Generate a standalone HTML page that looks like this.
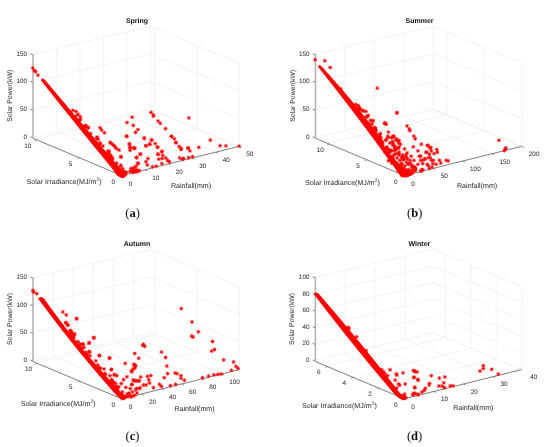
<!DOCTYPE html>
<html><head><meta charset="utf-8"><style>
html,body{margin:0;padding:0;background:#fff;}
svg{display:block;}
text{font-family:"Liberation Sans",Arial,sans-serif;fill:#262626;text-rendering:geometricPrecision;}
.tl text{font-size:6.4px;}
.lab{font-size:7.1px;} .zl{font-size:6.9px;}
.ttl{font-size:7px;font-weight:bold;fill:#111;}
.cap{font-family:"Liberation Serif","Times New Roman",serif;font-size:12.5px;fill:#111;}
</style></head><body>
<svg width="550" height="447" viewBox="0 0 550 447">
<defs><filter id="bl" x="0" y="0" width="1" height="1"><feGaussianBlur stdDeviation="0.4"/></filter></defs>
<rect width="550" height="447" fill="#fff"/>
<g filter="url(#bl)">
<g transform="translate(0,0)">
<path d="M121.8 175.6L239.3 146.3M239.3 146.3L239.3 63.1M79.09 157.29L196.87 128.61M196.87 128.61L196.87 45.41M36.37 138.97L154.45 110.92M154.45 110.92L154.45 27.72M121.8 175.6L32.7 137.4M32.7 137.4L32.7 54.2M145.3 169.74L56.32 131.8M56.32 131.8L56.32 48.6M168.8 163.88L79.94 126.2M79.94 126.2L79.94 43M192.3 158.02L103.56 120.6M103.56 120.6L103.56 37.4M215.8 152.16L127.18 115M127.18 115L127.18 31.8M239.3 146.3L150.8 109.4M150.8 109.4L150.8 26.2M32.7 137.4L150.8 109.4M150.8 109.4L239.3 146.3M32.7 109.67L150.8 81.67M150.8 81.67L239.3 118.57M32.7 81.93L150.8 53.93M150.8 53.93L239.3 90.83M32.7 54.2L150.8 26.2M150.8 26.2L239.3 63.1" stroke="#ececec" stroke-width="0.7" fill="none"/>
<path d="M33 54.2L33 137.4" stroke="#b0b0b0" stroke-width="1.5" fill="none"/>
<path d="M32.7 138.2L121.8 175.6L239.3 146.3M30.3 136.8L32.7 137.8M30.3 109.07L32.7 110.07M30.3 81.33L32.7 82.33M30.3 53.6L32.7 54.6M121.8 175.6l-1.6 1.2M79.09 157.67l-1.6 1.2M36.37 139.74l-1.6 1.2M121.8 175.6l1.9 1.3M145.3 169.74l1.9 1.3M168.8 163.88l1.9 1.3M192.3 158.02l1.9 1.3M215.8 152.16l1.9 1.3M239.3 146.3l1.9 1.3" stroke="#5a5a5a" stroke-width="0.75" fill="none"/>
<polygon points="42.56,78.8 41.1,80 46.51,86.85 51.93,93.69 57.38,100.54 62.84,107.38 68.33,114.23 73.84,121.08 79.37,127.92 84.92,134.77 90.49,141.62 96.08,148.46 101.7,155.31 107.33,162.15 112.99,169 117.4,175.5 122.1,177.8 124.5,177.2 126.8,174.8 127.5,171.5 122.5,169.8 120.52,169 114.6,162.15 108.7,155.31 102.81,148.46 96.93,141.62 91.06,134.77 85.21,127.92 79.37,121.08 73.55,114.23 67.73,107.38 61.93,100.54 56.14,93.69 50.37,86.85 44.61,80" fill="#ff0000" stroke="#ff0000" stroke-width="0.9" stroke-linejoin="round"/>
<path d="M30.7 68.1h4M32.7 66.1v4M31.25 66.65l2.9 2.9M31.25 69.55l2.9 -2.9M32.4 70.7h4M34.4 68.7v4M32.95 69.25l2.9 2.9M32.95 72.15l2.9 -2.9M33.6 71.6h4M35.6 69.6v4M34.15 70.15l2.9 2.9M34.15 73.05l2.9 -2.9M35.9 75.1h4M37.9 73.1v4M36.45 73.65l2.9 2.9M36.45 76.55l2.9 -2.9M74 111.5h4M76 109.5v4M74.55 110.05l2.9 2.9M74.55 112.95l2.9 -2.9M76.2 114.2h4M78.2 112.2v4M76.75 112.75l2.9 2.9M76.75 115.65l2.9 -2.9M78.4 116.9h4M80.4 114.9v4M78.95 115.45l2.9 2.9M78.95 118.35l2.9 -2.9M83.3 125.6h4M85.3 123.6v4M83.85 124.15l2.9 2.9M83.85 127.05l2.9 -2.9M86 127.3h4M88 125.3v4M86.55 125.85l2.9 2.9M86.55 128.75l2.9 -2.9M98 127.8h4M100 125.8v4M98.55 126.35l2.9 2.9M98.55 129.25l2.9 -2.9M99.6 130h4M101.6 128v4M100.15 128.55l2.9 2.9M100.15 131.45l2.9 -2.9M102.4 132.7h4M104.4 130.7v4M102.95 131.25l2.9 2.9M102.95 134.15l2.9 -2.9M95.3 137.1h4M97.3 135.1v4M95.85 135.65l2.9 2.9M95.85 138.55l2.9 -2.9M108.3 142.5h4M110.3 140.5v4M108.85 141.05l2.9 2.9M108.85 143.95l2.9 -2.9M149.1 112.4h4M151.1 110.4v4M149.65 110.95l2.9 2.9M149.65 113.85l2.9 -2.9M151.5 115h4M153.5 113v4M152.05 113.55l2.9 2.9M152.05 116.45l2.9 -2.9M151.3 116.2h4M153.3 114.2v4M151.85 114.75l2.9 2.9M151.85 117.65l2.9 -2.9M130.2 117.2h4M132.2 115.2v4M130.75 115.75l2.9 2.9M130.75 118.65l2.9 -2.9M125 122.6h4M127 120.6v4M125.55 121.15l2.9 2.9M125.55 124.05l2.9 -2.9M156.1 121.1h4M158.1 119.1v4M156.65 119.65l2.9 2.9M156.65 122.55l2.9 -2.9M158.3 123.3h4M160.3 121.3v4M158.85 121.85l2.9 2.9M158.85 124.75l2.9 -2.9M131.3 125.4h4M133.3 123.4v4M131.85 123.95l2.9 2.9M131.85 126.85l2.9 -2.9M135.9 129.6h4M137.9 127.6v4M136.45 128.15l2.9 2.9M136.45 131.05l2.9 -2.9M133.5 132.4h4M135.5 130.4v4M134.05 130.95l2.9 2.9M134.05 133.85l2.9 -2.9M163.5 128.7h4M165.5 126.7v4M164.05 127.25l2.9 2.9M164.05 130.15l2.9 -2.9M124.4 136.2h4M126.4 134.2v4M124.95 134.75l2.9 2.9M124.95 137.65l2.9 -2.9M142.3 138.2h4M144.3 136.2v4M142.85 136.75l2.9 2.9M142.85 139.65l2.9 -2.9M149.5 140.1h4M151.5 138.1v4M150.05 138.65l2.9 2.9M150.05 141.55l2.9 -2.9M94.5 137.8h4M96.5 135.8v4M95.05 136.35l2.9 2.9M95.05 139.25l2.9 -2.9M108.4 142.9h4M110.4 140.9v4M108.95 141.45l2.9 2.9M108.95 144.35l2.9 -2.9M110.6 144.5h4M112.6 142.5v4M111.15 143.05l2.9 2.9M111.15 145.95l2.9 -2.9M112 145.6h4M114 143.6v4M112.55 144.15l2.9 2.9M112.55 147.05l2.9 -2.9M113.1 147h4M115.1 145v4M113.65 145.55l2.9 2.9M113.65 148.45l2.9 -2.9M114.4 148.5h4M116.4 146.5v4M114.95 147.05l2.9 2.9M114.95 149.95l2.9 -2.9M117.1 150.2h4M119.1 148.2v4M117.65 148.75l2.9 2.9M117.65 151.65l2.9 -2.9M127.4 143.8h4M129.4 141.8v4M127.95 142.35l2.9 2.9M127.95 145.25l2.9 -2.9M128 147.4h4M130 145.4v4M128.55 145.95l2.9 2.9M128.55 148.85l2.9 -2.9M131.4 147.8h4M133.4 145.8v4M131.95 146.35l2.9 2.9M131.95 149.25l2.9 -2.9M132.7 148h4M134.7 146v4M133.25 146.55l2.9 2.9M133.25 149.45l2.9 -2.9M144 145.8h4M146 143.8v4M144.55 144.35l2.9 2.9M144.55 147.25l2.9 -2.9M147.7 144h4M149.7 142v4M148.25 142.55l2.9 2.9M148.25 145.45l2.9 -2.9M153.2 143.6h4M155.2 141.6v4M153.75 142.15l2.9 2.9M153.75 145.05l2.9 -2.9M155.6 147.2h4M157.6 145.2v4M156.15 145.75l2.9 2.9M156.15 148.65l2.9 -2.9M160 151.6h4M162 149.6v4M160.55 150.15l2.9 2.9M160.55 153.05l2.9 -2.9M107 151.6h4M109 149.6v4M107.55 150.15l2.9 2.9M107.55 153.05l2.9 -2.9M118.8 156.5h4M120.8 154.5v4M119.35 155.05l2.9 2.9M119.35 157.95l2.9 -2.9M138.2 154.1h4M140.2 152.1v4M138.75 152.65l2.9 2.9M138.75 155.55l2.9 -2.9M134.6 157.8h4M136.6 155.8v4M135.15 156.35l2.9 2.9M135.15 159.25l2.9 -2.9M156.2 154.3h4M158.2 152.3v4M156.75 152.85l2.9 2.9M156.75 155.75l2.9 -2.9M160.7 155.3h4M162.7 153.3v4M161.25 153.85l2.9 2.9M161.25 156.75l2.9 -2.9M186.8 117.9h4M188.8 115.9v4M187.35 116.45l2.9 2.9M187.35 119.35l2.9 -2.9M169.5 136.4h4M171.5 134.4v4M170.05 134.95l2.9 2.9M170.05 137.85l2.9 -2.9M172.3 138.8h4M174.3 136.8v4M172.85 137.35l2.9 2.9M172.85 140.25l2.9 -2.9M174 142.7h4M176 140.7v4M174.55 141.25l2.9 2.9M174.55 144.15l2.9 -2.9M208.3 140.2h4M210.3 138.2v4M208.85 138.75l2.9 2.9M208.85 141.65l2.9 -2.9M218.1 145.7h4M220.1 143.7v4M218.65 144.25l2.9 2.9M218.65 147.15l2.9 -2.9M223.8 145.9h4M225.8 143.9v4M224.35 144.45l2.9 2.9M224.35 147.35l2.9 -2.9M237.2 146.2h4M239.2 144.2v4M237.75 144.75l2.9 2.9M237.75 147.65l2.9 -2.9M196.8 147.4h4M198.8 145.4v4M197.35 145.95l2.9 2.9M197.35 148.85l2.9 -2.9M186.3 147.8h4M188.3 145.8v4M186.85 146.35l2.9 2.9M186.85 149.25l2.9 -2.9M179.3 148.5h4M181.3 146.5v4M179.85 147.05l2.9 2.9M179.85 149.95l2.9 -2.9M124.9 136.3h4M126.9 134.3v4M125.45 134.85l2.9 2.9M125.45 137.75l2.9 -2.9M142.1 138.2h4M144.1 136.2v4M142.65 136.75l2.9 2.9M142.65 139.65l2.9 -2.9M149.7 140.1h4M151.7 138.1v4M150.25 138.65l2.9 2.9M150.25 141.55l2.9 -2.9M169.5 136.5h4M171.5 134.5v4M170.05 135.05l2.9 2.9M170.05 137.95l2.9 -2.9M173.9 142.6h4M175.9 140.6v4M174.45 141.15l2.9 2.9M174.45 144.05l2.9 -2.9M127.5 144.2h4M129.5 142.2v4M128.05 142.75l2.9 2.9M128.05 145.65l2.9 -2.9M144 145.8h4M146 143.8v4M144.55 144.35l2.9 2.9M144.55 147.25l2.9 -2.9M147.8 144.5h4M149.8 142.5v4M148.35 143.05l2.9 2.9M148.35 145.95l2.9 -2.9M155.5 147.1h4M157.5 145.1v4M156.05 145.65l2.9 2.9M156.05 148.55l2.9 -2.9M128.1 147.7h4M130.1 145.7v4M128.65 146.25l2.9 2.9M128.65 149.15l2.9 -2.9M132.5 148.4h4M134.5 146.4v4M133.05 146.95l2.9 2.9M133.05 149.85l2.9 -2.9M128.1 150.3h4M130.1 148.3v4M128.65 148.85l2.9 2.9M128.65 151.75l2.9 -2.9M177.1 146.5h4M179.1 144.5v4M177.65 145.05l2.9 2.9M177.65 147.95l2.9 -2.9M179 149.6h4M181 147.6v4M179.55 148.15l2.9 2.9M179.55 151.05l2.9 -2.9M186 148.4h4M188 146.4v4M186.55 146.95l2.9 2.9M186.55 149.85l2.9 -2.9M187.9 150.9h4M189.9 148.9v4M188.45 149.45l2.9 2.9M188.45 152.35l2.9 -2.9M159.9 151.5h4M161.9 149.5v4M160.45 150.05l2.9 2.9M160.45 152.95l2.9 -2.9M138.3 154.1h4M140.3 152.1v4M138.85 152.65l2.9 2.9M138.85 155.55l2.9 -2.9M155.8 154.1h4M157.8 152.1v4M156.35 152.65l2.9 2.9M156.35 155.55l2.9 -2.9M134.5 157.3h4M136.5 155.3v4M135.05 155.85l2.9 2.9M135.05 158.75l2.9 -2.9M145.9 158.5h4M147.9 156.5v4M146.45 157.05l2.9 2.9M146.45 159.95l2.9 -2.9M156.7 159.2h4M158.7 157.2v4M157.25 157.75l2.9 2.9M157.25 160.65l2.9 -2.9M160.2 158.5h4M162.2 156.5v4M160.75 157.05l2.9 2.9M160.75 159.95l2.9 -2.9M163.7 157.9h4M165.7 155.9v4M164.25 156.45l2.9 2.9M164.25 159.35l2.9 -2.9M165.6 160.5h4M167.6 158.5v4M166.15 159.05l2.9 2.9M166.15 161.95l2.9 -2.9M167.5 161.7h4M169.5 159.7v4M168.05 160.25l2.9 2.9M168.05 163.15l2.9 -2.9M177.7 157.9h4M179.7 155.9v4M178.25 156.45l2.9 2.9M178.25 159.35l2.9 -2.9M180.3 159.2h4M182.3 157.2v4M180.85 157.75l2.9 2.9M180.85 160.65l2.9 -2.9M181.5 158.5h4M183.5 156.5v4M182.05 157.05l2.9 2.9M182.05 159.95l2.9 -2.9M186.6 157.7h4M188.6 155.7v4M187.15 156.25l2.9 2.9M187.15 159.15l2.9 -2.9M190.5 156.6h4M192.5 154.6v4M191.05 155.15l2.9 2.9M191.05 158.05l2.9 -2.9M144 161.7h4M146 159.7v4M144.55 160.25l2.9 2.9M144.55 163.15l2.9 -2.9M135.7 163h4M137.7 161v4M136.25 161.55l2.9 2.9M136.25 164.45l2.9 -2.9M145.3 164.9h4M147.3 162.9v4M145.85 163.45l2.9 2.9M145.85 166.35l2.9 -2.9M159.9 163.6h4M161.9 161.6v4M160.45 162.15l2.9 2.9M160.45 165.05l2.9 -2.9M150.4 166.8h4M152.4 164.8v4M150.95 165.35l2.9 2.9M150.95 168.25l2.9 -2.9M154.2 166.2h4M156.2 164.2v4M154.75 164.75l2.9 2.9M154.75 167.65l2.9 -2.9M131.9 167.5h4M133.9 165.5v4M132.45 166.05l2.9 2.9M132.45 168.95l2.9 -2.9M130.6 170h4M132.6 168v4M131.15 168.55l2.9 2.9M131.15 171.45l2.9 -2.9M133.8 170.6h4M135.8 168.6v4M134.35 169.15l2.9 2.9M134.35 172.05l2.9 -2.9M135.7 171.3h4M137.7 169.3v4M136.25 169.85l2.9 2.9M136.25 172.75l2.9 -2.9M128 171.5h4M130 169.5v4M128.55 170.05l2.9 2.9M128.55 172.95l2.9 -2.9M131 172.5h4M133 170.5v4M131.55 171.05l2.9 2.9M131.55 173.95l2.9 -2.9M134 172h4M136 170v4M134.55 170.55l2.9 2.9M134.55 173.45l2.9 -2.9M129 168.5h4M131 166.5v4M129.55 167.05l2.9 2.9M129.55 169.95l2.9 -2.9M109.1 156.1h4M111.1 154.1v4M109.65 154.65l2.9 2.9M109.65 157.55l2.9 -2.9M114.6 163.1h4M116.6 161.1v4M115.15 161.65l2.9 2.9M115.15 164.55l2.9 -2.9M119.2 157.1h4M121.2 155.1v4M119.75 155.65l2.9 2.9M119.75 158.55l2.9 -2.9M136.3 163.6h4M138.3 161.6v4M136.85 162.15l2.9 2.9M136.85 165.05l2.9 -2.9M134.2 166.2h4M136.2 164.2v4M134.75 164.75l2.9 2.9M134.75 167.65l2.9 -2.9M130.2 169.2h4M132.2 167.2v4M130.75 167.75l2.9 2.9M130.75 170.65l2.9 -2.9M133.2 169.7h4M135.2 167.7v4M133.75 168.25l2.9 2.9M133.75 171.15l2.9 -2.9M135.3 170.2h4M137.3 168.2v4M135.85 168.75l2.9 2.9M135.85 171.65l2.9 -2.9M132.7 171.2h4M134.7 169.2v4M133.25 169.75l2.9 2.9M133.25 172.65l2.9 -2.9M137.3 170.7h4M139.3 168.7v4M137.85 169.25l2.9 2.9M137.85 172.15l2.9 -2.9M97.7 143.3h4M99.7 141.3v4M98.25 141.85l2.9 2.9M98.25 144.75l2.9 -2.9M98.2 143.3h4M100.2 141.3v4M98.75 141.85l2.9 2.9M98.75 144.75l2.9 -2.9M83.8 126.7h4M85.8 124.7v4M84.35 125.25l2.9 2.9M84.35 128.15l2.9 -2.9M110.7 158.6h4M112.7 156.6v4M111.25 157.15l2.9 2.9M111.25 160.05l2.9 -2.9M78.5 119.6h4M80.5 117.6v4M79.05 118.15l2.9 2.9M79.05 121.05l2.9 -2.9M74.9 115.4h4M76.9 113.4v4M75.45 113.95l2.9 2.9M75.45 116.85l2.9 -2.9M106.5 151.9h4M108.5 149.9v4M107.05 150.45l2.9 2.9M107.05 153.35l2.9 -2.9M70.9 110.3h4M72.9 108.3v4M71.45 108.85l2.9 2.9M71.45 111.75l2.9 -2.9M83.5 125.8h4M85.5 123.8v4M84.05 124.35l2.9 2.9M84.05 127.25l2.9 -2.9M97.9 143.7h4M99.9 141.7v4M98.45 142.25l2.9 2.9M98.45 145.15l2.9 -2.9M100.9 145.9h4M102.9 143.9v4M101.45 144.45l2.9 2.9M101.45 147.35l2.9 -2.9M106.5 152.5h4M108.5 150.5v4M107.05 151.05l2.9 2.9M107.05 153.95l2.9 -2.9M120.8 168.6h4M122.8 166.6v4M121.35 167.15l2.9 2.9M121.35 170.05l2.9 -2.9M107.9 154.6h4M109.9 152.6v4M108.45 153.15l2.9 2.9M108.45 156.05l2.9 -2.9M88.5 133.7h4M90.5 131.7v4M89.05 132.25l2.9 2.9M89.05 135.15l2.9 -2.9M96 139.4h4M98 137.4v4M96.55 137.95l2.9 2.9M96.55 140.85l2.9 -2.9M118.9 165.2h4M120.9 163.2v4M119.45 163.75l2.9 2.9M119.45 166.65l2.9 -2.9M86.3 128h4M88.3 126v4M86.85 126.55l2.9 2.9M86.85 129.45l2.9 -2.9M118.6 166.3h4M120.6 164.3v4M119.15 164.85l2.9 2.9M119.15 167.75l2.9 -2.9M106 150.9h4M108 148.9v4M106.55 149.45l2.9 2.9M106.55 152.35l2.9 -2.9M77 119.8h4M79 117.8v4M77.55 118.35l2.9 2.9M77.55 121.25l2.9 -2.9M109.4 156.9h4M111.4 154.9v4M109.95 155.45l2.9 2.9M109.95 158.35l2.9 -2.9M77.3 120.7h4M79.3 118.7v4M77.85 119.25l2.9 2.9M77.85 122.15l2.9 -2.9M83.5 125.8h4M85.5 123.8v4M84.05 124.35l2.9 2.9M84.05 127.25l2.9 -2.9" stroke="#ff0000" stroke-width="0.8" fill="none"/>
<path d="M31.8 68.1a0.9 0.9 0 1 0 1.8 0a0.9 0.9 0 1 0 -1.8 0M33.5 70.7a0.9 0.9 0 1 0 1.8 0a0.9 0.9 0 1 0 -1.8 0M34.7 71.6a0.9 0.9 0 1 0 1.8 0a0.9 0.9 0 1 0 -1.8 0M37 75.1a0.9 0.9 0 1 0 1.8 0a0.9 0.9 0 1 0 -1.8 0M75.1 111.5a0.9 0.9 0 1 0 1.8 0a0.9 0.9 0 1 0 -1.8 0M77.3 114.2a0.9 0.9 0 1 0 1.8 0a0.9 0.9 0 1 0 -1.8 0M79.5 116.9a0.9 0.9 0 1 0 1.8 0a0.9 0.9 0 1 0 -1.8 0M84.4 125.6a0.9 0.9 0 1 0 1.8 0a0.9 0.9 0 1 0 -1.8 0M87.1 127.3a0.9 0.9 0 1 0 1.8 0a0.9 0.9 0 1 0 -1.8 0M99.1 127.8a0.9 0.9 0 1 0 1.8 0a0.9 0.9 0 1 0 -1.8 0M100.7 130a0.9 0.9 0 1 0 1.8 0a0.9 0.9 0 1 0 -1.8 0M103.5 132.7a0.9 0.9 0 1 0 1.8 0a0.9 0.9 0 1 0 -1.8 0M96.4 137.1a0.9 0.9 0 1 0 1.8 0a0.9 0.9 0 1 0 -1.8 0M109.4 142.5a0.9 0.9 0 1 0 1.8 0a0.9 0.9 0 1 0 -1.8 0M150.2 112.4a0.9 0.9 0 1 0 1.8 0a0.9 0.9 0 1 0 -1.8 0M152.6 115a0.9 0.9 0 1 0 1.8 0a0.9 0.9 0 1 0 -1.8 0M152.4 116.2a0.9 0.9 0 1 0 1.8 0a0.9 0.9 0 1 0 -1.8 0M131.3 117.2a0.9 0.9 0 1 0 1.8 0a0.9 0.9 0 1 0 -1.8 0M126.1 122.6a0.9 0.9 0 1 0 1.8 0a0.9 0.9 0 1 0 -1.8 0M157.2 121.1a0.9 0.9 0 1 0 1.8 0a0.9 0.9 0 1 0 -1.8 0M159.4 123.3a0.9 0.9 0 1 0 1.8 0a0.9 0.9 0 1 0 -1.8 0M132.4 125.4a0.9 0.9 0 1 0 1.8 0a0.9 0.9 0 1 0 -1.8 0M137 129.6a0.9 0.9 0 1 0 1.8 0a0.9 0.9 0 1 0 -1.8 0M134.6 132.4a0.9 0.9 0 1 0 1.8 0a0.9 0.9 0 1 0 -1.8 0M164.6 128.7a0.9 0.9 0 1 0 1.8 0a0.9 0.9 0 1 0 -1.8 0M125.5 136.2a0.9 0.9 0 1 0 1.8 0a0.9 0.9 0 1 0 -1.8 0M143.4 138.2a0.9 0.9 0 1 0 1.8 0a0.9 0.9 0 1 0 -1.8 0M150.6 140.1a0.9 0.9 0 1 0 1.8 0a0.9 0.9 0 1 0 -1.8 0M95.6 137.8a0.9 0.9 0 1 0 1.8 0a0.9 0.9 0 1 0 -1.8 0M109.5 142.9a0.9 0.9 0 1 0 1.8 0a0.9 0.9 0 1 0 -1.8 0M111.7 144.5a0.9 0.9 0 1 0 1.8 0a0.9 0.9 0 1 0 -1.8 0M113.1 145.6a0.9 0.9 0 1 0 1.8 0a0.9 0.9 0 1 0 -1.8 0M114.2 147a0.9 0.9 0 1 0 1.8 0a0.9 0.9 0 1 0 -1.8 0M115.5 148.5a0.9 0.9 0 1 0 1.8 0a0.9 0.9 0 1 0 -1.8 0M118.2 150.2a0.9 0.9 0 1 0 1.8 0a0.9 0.9 0 1 0 -1.8 0M128.5 143.8a0.9 0.9 0 1 0 1.8 0a0.9 0.9 0 1 0 -1.8 0M129.1 147.4a0.9 0.9 0 1 0 1.8 0a0.9 0.9 0 1 0 -1.8 0M132.5 147.8a0.9 0.9 0 1 0 1.8 0a0.9 0.9 0 1 0 -1.8 0M133.8 148a0.9 0.9 0 1 0 1.8 0a0.9 0.9 0 1 0 -1.8 0M145.1 145.8a0.9 0.9 0 1 0 1.8 0a0.9 0.9 0 1 0 -1.8 0M148.8 144a0.9 0.9 0 1 0 1.8 0a0.9 0.9 0 1 0 -1.8 0M154.3 143.6a0.9 0.9 0 1 0 1.8 0a0.9 0.9 0 1 0 -1.8 0M156.7 147.2a0.9 0.9 0 1 0 1.8 0a0.9 0.9 0 1 0 -1.8 0M161.1 151.6a0.9 0.9 0 1 0 1.8 0a0.9 0.9 0 1 0 -1.8 0M108.1 151.6a0.9 0.9 0 1 0 1.8 0a0.9 0.9 0 1 0 -1.8 0M119.9 156.5a0.9 0.9 0 1 0 1.8 0a0.9 0.9 0 1 0 -1.8 0M139.3 154.1a0.9 0.9 0 1 0 1.8 0a0.9 0.9 0 1 0 -1.8 0M135.7 157.8a0.9 0.9 0 1 0 1.8 0a0.9 0.9 0 1 0 -1.8 0M157.3 154.3a0.9 0.9 0 1 0 1.8 0a0.9 0.9 0 1 0 -1.8 0M161.8 155.3a0.9 0.9 0 1 0 1.8 0a0.9 0.9 0 1 0 -1.8 0M187.9 117.9a0.9 0.9 0 1 0 1.8 0a0.9 0.9 0 1 0 -1.8 0M170.6 136.4a0.9 0.9 0 1 0 1.8 0a0.9 0.9 0 1 0 -1.8 0M173.4 138.8a0.9 0.9 0 1 0 1.8 0a0.9 0.9 0 1 0 -1.8 0M175.1 142.7a0.9 0.9 0 1 0 1.8 0a0.9 0.9 0 1 0 -1.8 0M209.4 140.2a0.9 0.9 0 1 0 1.8 0a0.9 0.9 0 1 0 -1.8 0M219.2 145.7a0.9 0.9 0 1 0 1.8 0a0.9 0.9 0 1 0 -1.8 0M224.9 145.9a0.9 0.9 0 1 0 1.8 0a0.9 0.9 0 1 0 -1.8 0M238.3 146.2a0.9 0.9 0 1 0 1.8 0a0.9 0.9 0 1 0 -1.8 0M197.9 147.4a0.9 0.9 0 1 0 1.8 0a0.9 0.9 0 1 0 -1.8 0M187.4 147.8a0.9 0.9 0 1 0 1.8 0a0.9 0.9 0 1 0 -1.8 0M180.4 148.5a0.9 0.9 0 1 0 1.8 0a0.9 0.9 0 1 0 -1.8 0M126 136.3a0.9 0.9 0 1 0 1.8 0a0.9 0.9 0 1 0 -1.8 0M143.2 138.2a0.9 0.9 0 1 0 1.8 0a0.9 0.9 0 1 0 -1.8 0M150.8 140.1a0.9 0.9 0 1 0 1.8 0a0.9 0.9 0 1 0 -1.8 0M170.6 136.5a0.9 0.9 0 1 0 1.8 0a0.9 0.9 0 1 0 -1.8 0M175 142.6a0.9 0.9 0 1 0 1.8 0a0.9 0.9 0 1 0 -1.8 0M128.6 144.2a0.9 0.9 0 1 0 1.8 0a0.9 0.9 0 1 0 -1.8 0M145.1 145.8a0.9 0.9 0 1 0 1.8 0a0.9 0.9 0 1 0 -1.8 0M148.9 144.5a0.9 0.9 0 1 0 1.8 0a0.9 0.9 0 1 0 -1.8 0M156.6 147.1a0.9 0.9 0 1 0 1.8 0a0.9 0.9 0 1 0 -1.8 0M129.2 147.7a0.9 0.9 0 1 0 1.8 0a0.9 0.9 0 1 0 -1.8 0M133.6 148.4a0.9 0.9 0 1 0 1.8 0a0.9 0.9 0 1 0 -1.8 0M129.2 150.3a0.9 0.9 0 1 0 1.8 0a0.9 0.9 0 1 0 -1.8 0M178.2 146.5a0.9 0.9 0 1 0 1.8 0a0.9 0.9 0 1 0 -1.8 0M180.1 149.6a0.9 0.9 0 1 0 1.8 0a0.9 0.9 0 1 0 -1.8 0M187.1 148.4a0.9 0.9 0 1 0 1.8 0a0.9 0.9 0 1 0 -1.8 0M189 150.9a0.9 0.9 0 1 0 1.8 0a0.9 0.9 0 1 0 -1.8 0M161 151.5a0.9 0.9 0 1 0 1.8 0a0.9 0.9 0 1 0 -1.8 0M139.4 154.1a0.9 0.9 0 1 0 1.8 0a0.9 0.9 0 1 0 -1.8 0M156.9 154.1a0.9 0.9 0 1 0 1.8 0a0.9 0.9 0 1 0 -1.8 0M135.6 157.3a0.9 0.9 0 1 0 1.8 0a0.9 0.9 0 1 0 -1.8 0M147 158.5a0.9 0.9 0 1 0 1.8 0a0.9 0.9 0 1 0 -1.8 0M157.8 159.2a0.9 0.9 0 1 0 1.8 0a0.9 0.9 0 1 0 -1.8 0M161.3 158.5a0.9 0.9 0 1 0 1.8 0a0.9 0.9 0 1 0 -1.8 0M164.8 157.9a0.9 0.9 0 1 0 1.8 0a0.9 0.9 0 1 0 -1.8 0M166.7 160.5a0.9 0.9 0 1 0 1.8 0a0.9 0.9 0 1 0 -1.8 0M168.6 161.7a0.9 0.9 0 1 0 1.8 0a0.9 0.9 0 1 0 -1.8 0M178.8 157.9a0.9 0.9 0 1 0 1.8 0a0.9 0.9 0 1 0 -1.8 0M181.4 159.2a0.9 0.9 0 1 0 1.8 0a0.9 0.9 0 1 0 -1.8 0M182.6 158.5a0.9 0.9 0 1 0 1.8 0a0.9 0.9 0 1 0 -1.8 0M187.7 157.7a0.9 0.9 0 1 0 1.8 0a0.9 0.9 0 1 0 -1.8 0M191.6 156.6a0.9 0.9 0 1 0 1.8 0a0.9 0.9 0 1 0 -1.8 0M145.1 161.7a0.9 0.9 0 1 0 1.8 0a0.9 0.9 0 1 0 -1.8 0M136.8 163a0.9 0.9 0 1 0 1.8 0a0.9 0.9 0 1 0 -1.8 0M146.4 164.9a0.9 0.9 0 1 0 1.8 0a0.9 0.9 0 1 0 -1.8 0M161 163.6a0.9 0.9 0 1 0 1.8 0a0.9 0.9 0 1 0 -1.8 0M151.5 166.8a0.9 0.9 0 1 0 1.8 0a0.9 0.9 0 1 0 -1.8 0M155.3 166.2a0.9 0.9 0 1 0 1.8 0a0.9 0.9 0 1 0 -1.8 0M133 167.5a0.9 0.9 0 1 0 1.8 0a0.9 0.9 0 1 0 -1.8 0M131.7 170a0.9 0.9 0 1 0 1.8 0a0.9 0.9 0 1 0 -1.8 0M134.9 170.6a0.9 0.9 0 1 0 1.8 0a0.9 0.9 0 1 0 -1.8 0M136.8 171.3a0.9 0.9 0 1 0 1.8 0a0.9 0.9 0 1 0 -1.8 0M129.1 171.5a0.9 0.9 0 1 0 1.8 0a0.9 0.9 0 1 0 -1.8 0M132.1 172.5a0.9 0.9 0 1 0 1.8 0a0.9 0.9 0 1 0 -1.8 0M135.1 172a0.9 0.9 0 1 0 1.8 0a0.9 0.9 0 1 0 -1.8 0M130.1 168.5a0.9 0.9 0 1 0 1.8 0a0.9 0.9 0 1 0 -1.8 0M110.2 156.1a0.9 0.9 0 1 0 1.8 0a0.9 0.9 0 1 0 -1.8 0M115.7 163.1a0.9 0.9 0 1 0 1.8 0a0.9 0.9 0 1 0 -1.8 0M120.3 157.1a0.9 0.9 0 1 0 1.8 0a0.9 0.9 0 1 0 -1.8 0M137.4 163.6a0.9 0.9 0 1 0 1.8 0a0.9 0.9 0 1 0 -1.8 0M135.3 166.2a0.9 0.9 0 1 0 1.8 0a0.9 0.9 0 1 0 -1.8 0M131.3 169.2a0.9 0.9 0 1 0 1.8 0a0.9 0.9 0 1 0 -1.8 0M134.3 169.7a0.9 0.9 0 1 0 1.8 0a0.9 0.9 0 1 0 -1.8 0M136.4 170.2a0.9 0.9 0 1 0 1.8 0a0.9 0.9 0 1 0 -1.8 0M133.8 171.2a0.9 0.9 0 1 0 1.8 0a0.9 0.9 0 1 0 -1.8 0M138.4 170.7a0.9 0.9 0 1 0 1.8 0a0.9 0.9 0 1 0 -1.8 0M98.8 143.3a0.9 0.9 0 1 0 1.8 0a0.9 0.9 0 1 0 -1.8 0M99.3 143.3a0.9 0.9 0 1 0 1.8 0a0.9 0.9 0 1 0 -1.8 0M84.9 126.7a0.9 0.9 0 1 0 1.8 0a0.9 0.9 0 1 0 -1.8 0M111.8 158.6a0.9 0.9 0 1 0 1.8 0a0.9 0.9 0 1 0 -1.8 0M79.6 119.6a0.9 0.9 0 1 0 1.8 0a0.9 0.9 0 1 0 -1.8 0M76 115.4a0.9 0.9 0 1 0 1.8 0a0.9 0.9 0 1 0 -1.8 0M107.6 151.9a0.9 0.9 0 1 0 1.8 0a0.9 0.9 0 1 0 -1.8 0M72 110.3a0.9 0.9 0 1 0 1.8 0a0.9 0.9 0 1 0 -1.8 0M84.6 125.8a0.9 0.9 0 1 0 1.8 0a0.9 0.9 0 1 0 -1.8 0M99 143.7a0.9 0.9 0 1 0 1.8 0a0.9 0.9 0 1 0 -1.8 0M102 145.9a0.9 0.9 0 1 0 1.8 0a0.9 0.9 0 1 0 -1.8 0M107.6 152.5a0.9 0.9 0 1 0 1.8 0a0.9 0.9 0 1 0 -1.8 0M121.9 168.6a0.9 0.9 0 1 0 1.8 0a0.9 0.9 0 1 0 -1.8 0M109 154.6a0.9 0.9 0 1 0 1.8 0a0.9 0.9 0 1 0 -1.8 0M89.6 133.7a0.9 0.9 0 1 0 1.8 0a0.9 0.9 0 1 0 -1.8 0M97.1 139.4a0.9 0.9 0 1 0 1.8 0a0.9 0.9 0 1 0 -1.8 0M120 165.2a0.9 0.9 0 1 0 1.8 0a0.9 0.9 0 1 0 -1.8 0M87.4 128a0.9 0.9 0 1 0 1.8 0a0.9 0.9 0 1 0 -1.8 0M119.7 166.3a0.9 0.9 0 1 0 1.8 0a0.9 0.9 0 1 0 -1.8 0M107.1 150.9a0.9 0.9 0 1 0 1.8 0a0.9 0.9 0 1 0 -1.8 0M78.1 119.8a0.9 0.9 0 1 0 1.8 0a0.9 0.9 0 1 0 -1.8 0M110.5 156.9a0.9 0.9 0 1 0 1.8 0a0.9 0.9 0 1 0 -1.8 0M78.4 120.7a0.9 0.9 0 1 0 1.8 0a0.9 0.9 0 1 0 -1.8 0M84.6 125.8a0.9 0.9 0 1 0 1.8 0a0.9 0.9 0 1 0 -1.8 0" fill="#ff0000"/>
<g class="tl"><text x="27.1" y="138.9" text-anchor="end">0</text><text x="27.1" y="111.17" text-anchor="end">50</text><text x="27.1" y="83.43" text-anchor="end">100</text><text x="27.1" y="55.7" text-anchor="end">150</text><text x="113.3" y="183.6" text-anchor="middle">0</text><text x="70.59" y="165.67" text-anchor="middle">5</text><text x="27.87" y="147.74" text-anchor="middle">10</text><text x="128.8" y="185.5">0</text><text x="152.3" y="179.64">10</text><text x="175.8" y="173.78">20</text><text x="199.3" y="167.92">30</text><text x="222.8" y="162.06">40</text><text x="246.3" y="156.2">50</text></g>
<text class="lab" x="26.6" y="184.1">Solar Irradiance(MJ/m<tspan dy="-3" font-size="5">2</tspan><tspan dy="3">)</tspan></text>
<text class="lab" x="170.9" y="188.0">Rainfall(mm)</text>
<text class="lab zl" transform="translate(12.0,95.7) rotate(-90)" text-anchor="middle">Solar Power(kW)</text>
<text class="ttl" x="137.0" y="23.2" text-anchor="middle">Spring</text>
<text class="cap" x="132.6" y="216.7" text-anchor="middle">(<tspan font-weight="bold">a</tspan>)</text>
</g>
<g transform="translate(282.5,0)">
<path d="M121.8 175.6L239.3 146.3M239.3 146.3L239.3 63.1M84.05 159.41L201.8 130.66M201.8 130.66L201.8 47.46M46.29 143.23L164.3 115.03M164.3 115.03L164.3 31.83M121.8 175.6L32.7 137.4M32.7 137.4L32.7 54.2M151.18 168.27L62.23 130.4M62.23 130.4L62.23 47.2M180.55 160.95L91.75 123.4M91.75 123.4L91.75 40.2M209.93 153.62L121.28 116.4M121.28 116.4L121.28 33.2M239.3 146.3L150.8 109.4M150.8 109.4L150.8 26.2M32.7 137.4L150.8 109.4M150.8 109.4L239.3 146.3M32.7 109.67L150.8 81.67M150.8 81.67L239.3 118.57M32.7 81.93L150.8 53.93M150.8 53.93L239.3 90.83M32.7 54.2L150.8 26.2M150.8 26.2L239.3 63.1" stroke="#ececec" stroke-width="0.7" fill="none"/>
<path d="M33 54.2L33 137.4" stroke="#b0b0b0" stroke-width="1.5" fill="none"/>
<path d="M32.7 138.2L121.8 175.6L239.3 146.3M30.3 136.8L32.7 137.8M30.3 109.07L32.7 110.07M30.3 81.33L32.7 82.33M30.3 53.6L32.7 54.6M121.8 175.6l-1.6 1.2M84.05 159.75l-1.6 1.2M46.29 143.91l-1.6 1.2M121.8 175.6l1.9 1.3M151.18 168.27l1.9 1.3M180.55 160.95l1.9 1.3M209.93 153.62l1.9 1.3M239.3 146.3l1.9 1.3" stroke="#5a5a5a" stroke-width="0.75" fill="none"/>
<polygon points="37.23,65.4 35.72,66.5 41.49,73.77 47.22,81.03 52.91,88.3 58.56,95.57 64.17,102.83 69.74,110.1 75.28,117.37 80.77,124.63 86.22,131.9 91.63,139.17 97.01,146.43 102.34,153.7 107.64,160.97 112.89,168.23 118.11,175.5 119.7,176.8 124.5,176.8 129.5,175 131.5,173 122.5,168 114.5,162.2 107.5,155 101.5,148 101.16,142 96,135.14 90.74,128.27 85.37,121.41 79.9,114.55 74.33,107.68 68.66,100.82 62.88,93.95 57,87.09 51.02,80.23 44.93,73.36 38.74,66.5" fill="#ff0000" stroke="#ff0000" stroke-width="0.9" stroke-linejoin="round"/>
<path d="M30.6 59.7h4M32.6 57.7v4M31.15 58.25l2.9 2.9M31.15 61.15l2.9 -2.9M40.3 60.7h4M42.3 58.7v4M40.85 59.25l2.9 2.9M40.85 62.15l2.9 -2.9M45.7 67.5h4M47.7 65.5v4M46.25 66.05l2.9 2.9M46.25 68.95l2.9 -2.9M56.3 88.8h4M58.3 86.8v4M56.85 87.35l2.9 2.9M56.85 90.25l2.9 -2.9M78.7 110.9h4M80.7 108.9v4M79.25 109.45l2.9 2.9M79.25 112.35l2.9 -2.9M81.4 111.4h4M83.4 109.4v4M81.95 109.95l2.9 2.9M81.95 112.85l2.9 -2.9M78.3 110.7h4M80.3 108.7v4M78.85 109.25l2.9 2.9M78.85 112.15l2.9 -2.9M83.7 115.4h4M85.7 113.4v4M84.25 113.95l2.9 2.9M84.25 116.85l2.9 -2.9M112.5 112.8h4M114.5 110.8v4M113.05 111.35l2.9 2.9M113.05 114.25l2.9 -2.9M88.4 120.8h4M90.4 118.8v4M88.95 119.35l2.9 2.9M88.95 122.25l2.9 -2.9M84.4 123.5h4M86.4 121.5v4M84.95 122.05l2.9 2.9M84.95 124.95l2.9 -2.9M100.5 123.5h4M102.5 121.5v4M101.05 122.05l2.9 2.9M101.05 124.95l2.9 -2.9M101.8 124.2h4M103.8 122.2v4M102.35 122.75l2.9 2.9M102.35 125.65l2.9 -2.9M95.8 133.6h4M97.8 131.6v4M96.35 132.15l2.9 2.9M96.35 135.05l2.9 -2.9M103.2 136.2h4M105.2 134.2v4M103.75 134.75l2.9 2.9M103.75 137.65l2.9 -2.9M108.5 136.2h4M110.5 134.2v4M109.05 134.75l2.9 2.9M109.05 137.65l2.9 -2.9M111.9 138.9h4M113.9 136.9v4M112.45 137.45l2.9 2.9M112.45 140.35l2.9 -2.9M101.1 140.3h4M103.1 138.3v4M101.65 138.85l2.9 2.9M101.65 141.75l2.9 -2.9M105.2 143h4M107.2 141v4M105.75 141.55l2.9 2.9M105.75 144.45l2.9 -2.9M109.2 144.3h4M111.2 142.3v4M109.75 142.85l2.9 2.9M109.75 145.75l2.9 -2.9M113.9 143h4M115.9 141v4M114.45 141.55l2.9 2.9M114.45 144.45l2.9 -2.9M102.5 147h4M104.5 145v4M103.05 145.55l2.9 2.9M103.05 148.45l2.9 -2.9M106.5 150.3h4M108.5 148.3v4M107.05 148.85l2.9 2.9M107.05 151.75l2.9 -2.9M110.5 148.3h4M112.5 146.3v4M111.05 146.85l2.9 2.9M111.05 149.75l2.9 -2.9M113.2 153.7h4M115.2 151.7v4M113.75 152.25l2.9 2.9M113.75 155.15l2.9 -2.9M114.5 147h4M116.5 145v4M115.05 145.55l2.9 2.9M115.05 148.45l2.9 -2.9M92.8 88.2h4M94.8 86.2v4M93.35 86.75l2.9 2.9M93.35 89.65l2.9 -2.9M112.4 112.9h4M114.4 110.9v4M112.95 111.45l2.9 2.9M112.95 114.35l2.9 -2.9M88.4 120.9h4M90.4 118.9v4M88.95 119.45l2.9 2.9M88.95 122.35l2.9 -2.9M100 123.1h4M102 121.1v4M100.55 121.65l2.9 2.9M100.55 124.55l2.9 -2.9M122.6 126h4M124.6 124v4M123.15 124.55l2.9 2.9M123.15 127.45l2.9 -2.9M124.8 128.9h4M126.8 126.9v4M125.35 127.45l2.9 2.9M125.35 130.35l2.9 -2.9M90.6 128.2h4M92.6 126.2v4M91.15 126.75l2.9 2.9M91.15 129.65l2.9 -2.9M100.6 123.4h4M102.6 121.4v4M101.15 121.95l2.9 2.9M101.15 124.85l2.9 -2.9M125.4 130.7h4M127.4 128.7v4M125.95 129.25l2.9 2.9M125.95 132.15l2.9 -2.9M129.4 136.1h4M131.4 134.1v4M129.95 134.65l2.9 2.9M129.95 137.55l2.9 -2.9M130.8 138.8h4M132.8 136.8v4M131.35 137.35l2.9 2.9M131.35 140.25l2.9 -2.9M136.8 144.2h4M138.8 142.2v4M137.35 142.75l2.9 2.9M137.35 145.65l2.9 -2.9M143.5 145.5h4M145.5 143.5v4M144.05 144.05l2.9 2.9M144.05 146.95l2.9 -2.9M145.5 148.2h4M147.5 146.2v4M146.05 146.75l2.9 2.9M146.05 149.65l2.9 -2.9M128.8 146.8h4M130.8 144.8v4M129.35 145.35l2.9 2.9M129.35 148.25l2.9 -2.9M133.5 150.9h4M135.5 148.9v4M134.05 149.45l2.9 2.9M134.05 152.35l2.9 -2.9M141.5 152.2h4M143.5 150.2v4M142.05 150.75l2.9 2.9M142.05 153.65l2.9 -2.9M146.9 150.9h4M148.9 148.9v4M147.45 149.45l2.9 2.9M147.45 152.35l2.9 -2.9M122.7 152.9h4M124.7 150.9v4M123.25 151.45l2.9 2.9M123.25 154.35l2.9 -2.9M126.7 156.2h4M128.7 154.2v4M127.25 154.75l2.9 2.9M127.25 157.65l2.9 -2.9M134.8 156.2h4M136.8 154.2v4M135.35 154.75l2.9 2.9M135.35 157.65l2.9 -2.9M129.4 160.3h4M131.4 158.3v4M129.95 158.85l2.9 2.9M129.95 161.75l2.9 -2.9M136.1 160.3h4M138.1 158.3v4M136.65 158.85l2.9 2.9M136.65 161.75l2.9 -2.9M140.2 158.9h4M142.2 156.9v4M140.75 157.45l2.9 2.9M140.75 160.35l2.9 -2.9M144.2 157.6h4M146.2 155.6v4M144.75 156.15l2.9 2.9M144.75 159.05l2.9 -2.9M146.9 160.3h4M148.9 158.3v4M147.45 158.85l2.9 2.9M147.45 161.75l2.9 -2.9M133.4 164.3h4M135.4 162.3v4M133.95 162.85l2.9 2.9M133.95 165.75l2.9 -2.9M138.2 163.6h4M140.2 161.6v4M138.75 162.15l2.9 2.9M138.75 165.05l2.9 -2.9M142.8 164.3h4M144.8 162.3v4M143.35 162.85l2.9 2.9M143.35 165.75l2.9 -2.9M137.5 169.7h4M139.5 167.7v4M138.05 168.25l2.9 2.9M138.05 171.15l2.9 -2.9M130.8 168.3h4M132.8 166.3v4M131.35 166.85l2.9 2.9M131.35 169.75l2.9 -2.9M124.1 164.3h4M126.1 162.3v4M124.65 162.85l2.9 2.9M124.65 165.75l2.9 -2.9M117.3 157.6h4M119.3 155.6v4M117.85 156.15l2.9 2.9M117.85 159.05l2.9 -2.9M114.7 152.2h4M116.7 150.2v4M115.25 150.75l2.9 2.9M115.25 153.65l2.9 -2.9M110.6 146.8h4M112.6 144.8v4M111.15 145.35l2.9 2.9M111.15 148.25l2.9 -2.9M107.9 141.5h4M109.9 139.5v4M108.45 140.05l2.9 2.9M108.45 142.95l2.9 -2.9M103.9 137.4h4M105.9 135.4v4M104.45 135.95l2.9 2.9M104.45 138.85l2.9 -2.9M103.9 132.1h4M105.9 130.1v4M104.45 130.65l2.9 2.9M104.45 133.55l2.9 -2.9M109.3 136.1h4M111.3 134.1v4M109.85 134.65l2.9 2.9M109.85 137.55l2.9 -2.9M113.3 140.1h4M115.3 138.1v4M113.85 138.65l2.9 2.9M113.85 141.55l2.9 -2.9M116 144.2h4M118 142.2v4M116.55 142.75l2.9 2.9M116.55 145.65l2.9 -2.9M120 148.9h4M122 146.9v4M120.55 147.45l2.9 2.9M120.55 150.35l2.9 -2.9M121.4 154.9h4M123.4 152.9v4M121.95 153.45l2.9 2.9M121.95 156.35l2.9 -2.9M125.4 160.3h4M127.4 158.3v4M125.95 158.85l2.9 2.9M125.95 161.75l2.9 -2.9M128.1 165.6h4M130.1 163.6v4M128.65 164.15l2.9 2.9M128.65 167.05l2.9 -2.9M124.1 169.7h4M126.1 167.7v4M124.65 168.25l2.9 2.9M124.65 171.15l2.9 -2.9M117.3 164.3h4M119.3 162.3v4M117.85 162.85l2.9 2.9M117.85 165.75l2.9 -2.9M142.9 145.5h4M144.9 143.5v4M143.45 144.05l2.9 2.9M143.45 146.95l2.9 -2.9M146.2 147.5h4M148.2 145.5v4M146.75 146.05l2.9 2.9M146.75 148.95l2.9 -2.9M152.3 149.5h4M154.3 147.5v4M152.85 148.05l2.9 2.9M152.85 150.95l2.9 -2.9M152.9 152.2h4M154.9 150.2v4M153.45 150.75l2.9 2.9M153.45 153.65l2.9 -2.9M142.2 152.2h4M144.2 150.2v4M142.75 150.75l2.9 2.9M142.75 153.65l2.9 -2.9M144.9 154.2h4M146.9 152.2v4M145.45 152.75l2.9 2.9M145.45 155.65l2.9 -2.9M149.6 153.6h4M151.6 151.6v4M150.15 152.15l2.9 2.9M150.15 155.05l2.9 -2.9M136.2 156.2h4M138.2 154.2v4M136.75 154.75l2.9 2.9M136.75 157.65l2.9 -2.9M140.9 158.9h4M142.9 156.9v4M141.45 157.45l2.9 2.9M141.45 160.35l2.9 -2.9M145.6 157.6h4M147.6 155.6v4M146.15 156.15l2.9 2.9M146.15 159.05l2.9 -2.9M148.9 160.3h4M150.9 158.3v4M149.45 158.85l2.9 2.9M149.45 161.75l2.9 -2.9M155 160.3h4M157 158.3v4M155.55 158.85l2.9 2.9M155.55 161.75l2.9 -2.9M156.3 163h4M158.3 161v4M156.85 161.55l2.9 2.9M156.85 164.45l2.9 -2.9M161.7 160.3h4M163.7 158.3v4M162.25 158.85l2.9 2.9M162.25 161.75l2.9 -2.9M163.7 160.9h4M165.7 158.9v4M164.25 159.45l2.9 2.9M164.25 162.35l2.9 -2.9M148.3 163.6h4M150.3 161.6v4M148.85 162.15l2.9 2.9M148.85 165.05l2.9 -2.9M151.6 164.3h4M153.6 162.3v4M152.15 162.85l2.9 2.9M152.15 165.75l2.9 -2.9M138.2 160.3h4M140.2 158.3v4M138.75 158.85l2.9 2.9M138.75 161.75l2.9 -2.9M143.6 165.6h4M145.6 163.6v4M144.15 164.15l2.9 2.9M144.15 167.05l2.9 -2.9M147.6 167h4M149.6 165v4M148.15 165.55l2.9 2.9M148.15 168.45l2.9 -2.9M138.2 169.7h4M140.2 167.7v4M138.75 168.25l2.9 2.9M138.75 171.15l2.9 -2.9M144.9 168.3h4M146.9 166.3v4M145.45 166.85l2.9 2.9M145.45 169.75l2.9 -2.9M136.2 171h4M138.2 169v4M136.75 169.55l2.9 2.9M136.75 172.45l2.9 -2.9M214.4 140.3h4M216.4 138.3v4M214.95 138.85l2.9 2.9M214.95 141.75l2.9 -2.9M221.5 147.9h4M223.5 145.9v4M222.05 146.45l2.9 2.9M222.05 149.35l2.9 -2.9M220.6 149.2h4M222.6 147.2v4M221.15 147.75l2.9 2.9M221.15 150.65l2.9 -2.9M219.9 150.6h4M221.9 148.6v4M220.45 149.15l2.9 2.9M220.45 152.05l2.9 -2.9M122 162.1h4M124 160.1v4M122.55 160.65l2.9 2.9M122.55 163.55l2.9 -2.9M130.5 170.8h4M132.5 168.8v4M131.05 169.35l2.9 2.9M131.05 172.25l2.9 -2.9M127.8 169.9h4M129.8 167.9v4M128.35 168.45l2.9 2.9M128.35 171.35l2.9 -2.9M114.5 140.7h4M116.5 138.7v4M115.05 139.25l2.9 2.9M115.05 142.15l2.9 -2.9M118.1 154.9h4M120.1 152.9v4M118.65 153.45l2.9 2.9M118.65 156.35l2.9 -2.9M101.8 139.3h4M103.8 137.3v4M102.35 137.85l2.9 2.9M102.35 140.75l2.9 -2.9M117.9 159.4h4M119.9 157.4v4M118.45 157.95l2.9 2.9M118.45 160.85l2.9 -2.9M109.2 137.2h4M111.2 135.2v4M109.75 135.75l2.9 2.9M109.75 138.65l2.9 -2.9M108.1 143.4h4M110.1 141.4v4M108.65 141.95l2.9 2.9M108.65 144.85l2.9 -2.9M107 150.8h4M109 148.8v4M107.55 149.35l2.9 2.9M107.55 152.25l2.9 -2.9M128.2 166.6h4M130.2 164.6v4M128.75 165.15l2.9 2.9M128.75 168.05l2.9 -2.9M109.4 155h4M111.4 153v4M109.95 153.55l2.9 2.9M109.95 156.45l2.9 -2.9M137.1 170.8h4M139.1 168.8v4M137.65 169.35l2.9 2.9M137.65 172.25l2.9 -2.9M108.4 145.4h4M110.4 143.4v4M108.95 143.95l2.9 2.9M108.95 146.85l2.9 -2.9M117.2 163.6h4M119.2 161.6v4M117.75 162.15l2.9 2.9M117.75 165.05l2.9 -2.9M130.6 167.2h4M132.6 165.2v4M131.15 165.75l2.9 2.9M131.15 168.65l2.9 -2.9M107 137.7h4M109 135.7v4M107.55 136.25l2.9 2.9M107.55 139.15l2.9 -2.9M95.3 136.4h4M97.3 134.4v4M95.85 134.95l2.9 2.9M95.85 137.85l2.9 -2.9M111.4 140.3h4M113.4 138.3v4M111.95 138.85l2.9 2.9M111.95 141.75l2.9 -2.9M120.6 165.8h4M122.6 163.8v4M121.15 164.35l2.9 2.9M121.15 167.25l2.9 -2.9M113.8 148.3h4M115.8 146.3v4M114.35 146.85l2.9 2.9M114.35 149.75l2.9 -2.9M127.4 171.1h4M129.4 169.1v4M127.95 169.65l2.9 2.9M127.95 172.55l2.9 -2.9M110.2 150.5h4M112.2 148.5v4M110.75 149.05l2.9 2.9M110.75 151.95l2.9 -2.9M117.8 157h4M119.8 155v4M118.35 155.55l2.9 2.9M118.35 158.45l2.9 -2.9M101 148.7h4M103 146.7v4M101.55 147.25l2.9 2.9M101.55 150.15l2.9 -2.9M113.8 170.8h4M115.8 168.8v4M114.35 169.35l2.9 2.9M114.35 172.25l2.9 -2.9M103 152.7h4M105 150.7v4M103.55 151.25l2.9 2.9M103.55 154.15l2.9 -2.9M121.1 174.4h4M123.1 172.4v4M121.65 172.95l2.9 2.9M121.65 175.85l2.9 -2.9M119.3 157.9h4M121.3 155.9v4M119.85 156.45l2.9 2.9M119.85 159.35l2.9 -2.9M103.7 149.5h4M105.7 147.5v4M104.25 148.05l2.9 2.9M104.25 150.95l2.9 -2.9M121.5 157.2h4M123.5 155.2v4M122.05 155.75l2.9 2.9M122.05 158.65l2.9 -2.9M100.6 152.2h4M102.6 150.2v4M101.15 150.75l2.9 2.9M101.15 153.65l2.9 -2.9M123 158.8h4M125 156.8v4M123.55 157.35l2.9 2.9M123.55 160.25l2.9 -2.9M109.8 163.6h4M111.8 161.6v4M110.35 162.15l2.9 2.9M110.35 165.05l2.9 -2.9M114.8 155h4M116.8 153v4M115.35 153.55l2.9 2.9M115.35 156.45l2.9 -2.9M127.1 167h4M129.1 165v4M127.65 165.55l2.9 2.9M127.65 168.45l2.9 -2.9M107.3 163.2h4M109.3 161.2v4M107.85 161.75l2.9 2.9M107.85 164.65l2.9 -2.9M117.4 172.3h4M119.4 170.3v4M117.95 170.85l2.9 2.9M117.95 173.75l2.9 -2.9M113.6 168.7h4M115.6 166.7v4M114.15 167.25l2.9 2.9M114.15 170.15l2.9 -2.9M104 160.7h4M106 158.7v4M104.55 159.25l2.9 2.9M104.55 162.15l2.9 -2.9M126 163.2h4M128 161.2v4M126.55 161.75l2.9 2.9M126.55 164.65l2.9 -2.9M123.5 163.8h4M125.5 161.8v4M124.05 162.35l2.9 2.9M124.05 165.25l2.9 -2.9M119.4 159.7h4M121.4 157.7v4M119.95 158.25l2.9 2.9M119.95 161.15l2.9 -2.9M115.6 165.9h4M117.6 163.9v4M116.15 164.45l2.9 2.9M116.15 167.35l2.9 -2.9M121.8 175.8h4M123.8 173.8v4M122.35 174.35l2.9 2.9M122.35 177.25l2.9 -2.9M112.4 166.1h4M114.4 164.1v4M112.95 164.65l2.9 2.9M112.95 167.55l2.9 -2.9M104.5 149.5h4M106.5 147.5v4M105.05 148.05l2.9 2.9M105.05 150.95l2.9 -2.9M103.2 153.4h4M105.2 151.4v4M103.75 151.95l2.9 2.9M103.75 154.85l2.9 -2.9M118.3 172.5h4M120.3 170.5v4M118.85 171.05l2.9 2.9M118.85 173.95l2.9 -2.9M128 171.9h4M130 169.9v4M128.55 170.45l2.9 2.9M128.55 173.35l2.9 -2.9M108.5 158.5h4M110.5 156.5v4M109.05 157.05l2.9 2.9M109.05 159.95l2.9 -2.9M104.8 153h4M106.8 151v4M105.35 151.55l2.9 2.9M105.35 154.45l2.9 -2.9M106.9 160.5h4M108.9 158.5v4M107.45 159.05l2.9 2.9M107.45 161.95l2.9 -2.9M111.8 163h4M113.8 161v4M112.35 161.55l2.9 2.9M112.35 164.45l2.9 -2.9M117.1 164.5h4M119.1 162.5v4M117.65 163.05l2.9 2.9M117.65 165.95l2.9 -2.9M130.9 169.4h4M132.9 167.4v4M131.45 167.95l2.9 2.9M131.45 170.85l2.9 -2.9M130 169.9h4M132 167.9v4M130.55 168.45l2.9 2.9M130.55 171.35l2.9 -2.9M112.6 158h4M114.6 156v4M113.15 156.55l2.9 2.9M113.15 159.45l2.9 -2.9M100.7 148h4M102.7 146v4M101.25 146.55l2.9 2.9M101.25 149.45l2.9 -2.9M106 150.9h4M108 148.9v4M106.55 149.45l2.9 2.9M106.55 152.35l2.9 -2.9M110.7 147.6h4M112.7 145.6v4M111.25 146.15l2.9 2.9M111.25 149.05l2.9 -2.9M107.6 156.4h4M109.6 154.4v4M108.15 154.95l2.9 2.9M108.15 157.85l2.9 -2.9M111.6 149.7h4M113.6 147.7v4M112.15 148.25l2.9 2.9M112.15 151.15l2.9 -2.9M115.3 160.5h4M117.3 158.5v4M115.85 159.05l2.9 2.9M115.85 161.95l2.9 -2.9M101.6 149.1h4M103.6 147.1v4M102.15 147.65l2.9 2.9M102.15 150.55l2.9 -2.9M110.8 153.9h4M112.8 151.9v4M111.35 152.45l2.9 2.9M111.35 155.35l2.9 -2.9M117.5 175.4h4M119.5 173.4v4M118.05 173.95l2.9 2.9M118.05 176.85l2.9 -2.9M87.5 124.1h4M89.5 122.1v4M88.05 122.65l2.9 2.9M88.05 125.55l2.9 -2.9M75 110h4M77 108v4M75.55 108.55l2.9 2.9M75.55 111.45l2.9 -2.9M81.9 116.5h4M83.9 114.5v4M82.45 115.05l2.9 2.9M82.45 117.95l2.9 -2.9M90.6 128.3h4M92.6 126.3v4M91.15 126.85l2.9 2.9M91.15 129.75l2.9 -2.9M76.3 109.7h4M78.3 107.7v4M76.85 108.25l2.9 2.9M76.85 111.15l2.9 -2.9M96.4 138h4M98.4 136v4M96.95 136.55l2.9 2.9M96.95 139.45l2.9 -2.9M73.7 106.2h4M75.7 104.2v4M74.25 104.75l2.9 2.9M74.25 107.65l2.9 -2.9M86 120.3h4M88 118.3v4M86.55 118.85l2.9 2.9M86.55 121.75l2.9 -2.9M73.6 105.7h4M75.6 103.7v4M74.15 104.25l2.9 2.9M74.15 107.15l2.9 -2.9M75.3 108.4h4M77.3 106.4v4M75.85 106.95l2.9 2.9M75.85 109.85l2.9 -2.9M74.8 107.9h4M76.8 105.9v4M75.35 106.45l2.9 2.9M75.35 109.35l2.9 -2.9M82.7 117h4M84.7 115v4M83.25 115.55l2.9 2.9M83.25 118.45l2.9 -2.9M91.6 130.4h4M93.6 128.4v4M92.15 128.95l2.9 2.9M92.15 131.85l2.9 -2.9M95.3 134.5h4M97.3 132.5v4M95.85 133.05l2.9 2.9M95.85 135.95l2.9 -2.9M90.2 127.6h4M92.2 125.6v4M90.75 126.15l2.9 2.9M90.75 129.05l2.9 -2.9M71.4 104.4h4M73.4 102.4v4M71.95 102.95l2.9 2.9M71.95 105.85l2.9 -2.9" stroke="#ff0000" stroke-width="0.8" fill="none"/>
<path d="M31.7 59.7a0.9 0.9 0 1 0 1.8 0a0.9 0.9 0 1 0 -1.8 0M41.4 60.7a0.9 0.9 0 1 0 1.8 0a0.9 0.9 0 1 0 -1.8 0M46.8 67.5a0.9 0.9 0 1 0 1.8 0a0.9 0.9 0 1 0 -1.8 0M57.4 88.8a0.9 0.9 0 1 0 1.8 0a0.9 0.9 0 1 0 -1.8 0M79.8 110.9a0.9 0.9 0 1 0 1.8 0a0.9 0.9 0 1 0 -1.8 0M82.5 111.4a0.9 0.9 0 1 0 1.8 0a0.9 0.9 0 1 0 -1.8 0M79.4 110.7a0.9 0.9 0 1 0 1.8 0a0.9 0.9 0 1 0 -1.8 0M84.8 115.4a0.9 0.9 0 1 0 1.8 0a0.9 0.9 0 1 0 -1.8 0M113.6 112.8a0.9 0.9 0 1 0 1.8 0a0.9 0.9 0 1 0 -1.8 0M89.5 120.8a0.9 0.9 0 1 0 1.8 0a0.9 0.9 0 1 0 -1.8 0M85.5 123.5a0.9 0.9 0 1 0 1.8 0a0.9 0.9 0 1 0 -1.8 0M101.6 123.5a0.9 0.9 0 1 0 1.8 0a0.9 0.9 0 1 0 -1.8 0M102.9 124.2a0.9 0.9 0 1 0 1.8 0a0.9 0.9 0 1 0 -1.8 0M96.9 133.6a0.9 0.9 0 1 0 1.8 0a0.9 0.9 0 1 0 -1.8 0M104.3 136.2a0.9 0.9 0 1 0 1.8 0a0.9 0.9 0 1 0 -1.8 0M109.6 136.2a0.9 0.9 0 1 0 1.8 0a0.9 0.9 0 1 0 -1.8 0M113 138.9a0.9 0.9 0 1 0 1.8 0a0.9 0.9 0 1 0 -1.8 0M102.2 140.3a0.9 0.9 0 1 0 1.8 0a0.9 0.9 0 1 0 -1.8 0M106.3 143a0.9 0.9 0 1 0 1.8 0a0.9 0.9 0 1 0 -1.8 0M110.3 144.3a0.9 0.9 0 1 0 1.8 0a0.9 0.9 0 1 0 -1.8 0M115 143a0.9 0.9 0 1 0 1.8 0a0.9 0.9 0 1 0 -1.8 0M103.6 147a0.9 0.9 0 1 0 1.8 0a0.9 0.9 0 1 0 -1.8 0M107.6 150.3a0.9 0.9 0 1 0 1.8 0a0.9 0.9 0 1 0 -1.8 0M111.6 148.3a0.9 0.9 0 1 0 1.8 0a0.9 0.9 0 1 0 -1.8 0M114.3 153.7a0.9 0.9 0 1 0 1.8 0a0.9 0.9 0 1 0 -1.8 0M115.6 147a0.9 0.9 0 1 0 1.8 0a0.9 0.9 0 1 0 -1.8 0M93.9 88.2a0.9 0.9 0 1 0 1.8 0a0.9 0.9 0 1 0 -1.8 0M113.5 112.9a0.9 0.9 0 1 0 1.8 0a0.9 0.9 0 1 0 -1.8 0M89.5 120.9a0.9 0.9 0 1 0 1.8 0a0.9 0.9 0 1 0 -1.8 0M101.1 123.1a0.9 0.9 0 1 0 1.8 0a0.9 0.9 0 1 0 -1.8 0M123.7 126a0.9 0.9 0 1 0 1.8 0a0.9 0.9 0 1 0 -1.8 0M125.9 128.9a0.9 0.9 0 1 0 1.8 0a0.9 0.9 0 1 0 -1.8 0M91.7 128.2a0.9 0.9 0 1 0 1.8 0a0.9 0.9 0 1 0 -1.8 0M101.7 123.4a0.9 0.9 0 1 0 1.8 0a0.9 0.9 0 1 0 -1.8 0M126.5 130.7a0.9 0.9 0 1 0 1.8 0a0.9 0.9 0 1 0 -1.8 0M130.5 136.1a0.9 0.9 0 1 0 1.8 0a0.9 0.9 0 1 0 -1.8 0M131.9 138.8a0.9 0.9 0 1 0 1.8 0a0.9 0.9 0 1 0 -1.8 0M137.9 144.2a0.9 0.9 0 1 0 1.8 0a0.9 0.9 0 1 0 -1.8 0M144.6 145.5a0.9 0.9 0 1 0 1.8 0a0.9 0.9 0 1 0 -1.8 0M146.6 148.2a0.9 0.9 0 1 0 1.8 0a0.9 0.9 0 1 0 -1.8 0M129.9 146.8a0.9 0.9 0 1 0 1.8 0a0.9 0.9 0 1 0 -1.8 0M134.6 150.9a0.9 0.9 0 1 0 1.8 0a0.9 0.9 0 1 0 -1.8 0M142.6 152.2a0.9 0.9 0 1 0 1.8 0a0.9 0.9 0 1 0 -1.8 0M148 150.9a0.9 0.9 0 1 0 1.8 0a0.9 0.9 0 1 0 -1.8 0M123.8 152.9a0.9 0.9 0 1 0 1.8 0a0.9 0.9 0 1 0 -1.8 0M127.8 156.2a0.9 0.9 0 1 0 1.8 0a0.9 0.9 0 1 0 -1.8 0M135.9 156.2a0.9 0.9 0 1 0 1.8 0a0.9 0.9 0 1 0 -1.8 0M130.5 160.3a0.9 0.9 0 1 0 1.8 0a0.9 0.9 0 1 0 -1.8 0M137.2 160.3a0.9 0.9 0 1 0 1.8 0a0.9 0.9 0 1 0 -1.8 0M141.3 158.9a0.9 0.9 0 1 0 1.8 0a0.9 0.9 0 1 0 -1.8 0M145.3 157.6a0.9 0.9 0 1 0 1.8 0a0.9 0.9 0 1 0 -1.8 0M148 160.3a0.9 0.9 0 1 0 1.8 0a0.9 0.9 0 1 0 -1.8 0M134.5 164.3a0.9 0.9 0 1 0 1.8 0a0.9 0.9 0 1 0 -1.8 0M139.3 163.6a0.9 0.9 0 1 0 1.8 0a0.9 0.9 0 1 0 -1.8 0M143.9 164.3a0.9 0.9 0 1 0 1.8 0a0.9 0.9 0 1 0 -1.8 0M138.6 169.7a0.9 0.9 0 1 0 1.8 0a0.9 0.9 0 1 0 -1.8 0M131.9 168.3a0.9 0.9 0 1 0 1.8 0a0.9 0.9 0 1 0 -1.8 0M125.2 164.3a0.9 0.9 0 1 0 1.8 0a0.9 0.9 0 1 0 -1.8 0M118.4 157.6a0.9 0.9 0 1 0 1.8 0a0.9 0.9 0 1 0 -1.8 0M115.8 152.2a0.9 0.9 0 1 0 1.8 0a0.9 0.9 0 1 0 -1.8 0M111.7 146.8a0.9 0.9 0 1 0 1.8 0a0.9 0.9 0 1 0 -1.8 0M109 141.5a0.9 0.9 0 1 0 1.8 0a0.9 0.9 0 1 0 -1.8 0M105 137.4a0.9 0.9 0 1 0 1.8 0a0.9 0.9 0 1 0 -1.8 0M105 132.1a0.9 0.9 0 1 0 1.8 0a0.9 0.9 0 1 0 -1.8 0M110.4 136.1a0.9 0.9 0 1 0 1.8 0a0.9 0.9 0 1 0 -1.8 0M114.4 140.1a0.9 0.9 0 1 0 1.8 0a0.9 0.9 0 1 0 -1.8 0M117.1 144.2a0.9 0.9 0 1 0 1.8 0a0.9 0.9 0 1 0 -1.8 0M121.1 148.9a0.9 0.9 0 1 0 1.8 0a0.9 0.9 0 1 0 -1.8 0M122.5 154.9a0.9 0.9 0 1 0 1.8 0a0.9 0.9 0 1 0 -1.8 0M126.5 160.3a0.9 0.9 0 1 0 1.8 0a0.9 0.9 0 1 0 -1.8 0M129.2 165.6a0.9 0.9 0 1 0 1.8 0a0.9 0.9 0 1 0 -1.8 0M125.2 169.7a0.9 0.9 0 1 0 1.8 0a0.9 0.9 0 1 0 -1.8 0M118.4 164.3a0.9 0.9 0 1 0 1.8 0a0.9 0.9 0 1 0 -1.8 0M144 145.5a0.9 0.9 0 1 0 1.8 0a0.9 0.9 0 1 0 -1.8 0M147.3 147.5a0.9 0.9 0 1 0 1.8 0a0.9 0.9 0 1 0 -1.8 0M153.4 149.5a0.9 0.9 0 1 0 1.8 0a0.9 0.9 0 1 0 -1.8 0M154 152.2a0.9 0.9 0 1 0 1.8 0a0.9 0.9 0 1 0 -1.8 0M143.3 152.2a0.9 0.9 0 1 0 1.8 0a0.9 0.9 0 1 0 -1.8 0M146 154.2a0.9 0.9 0 1 0 1.8 0a0.9 0.9 0 1 0 -1.8 0M150.7 153.6a0.9 0.9 0 1 0 1.8 0a0.9 0.9 0 1 0 -1.8 0M137.3 156.2a0.9 0.9 0 1 0 1.8 0a0.9 0.9 0 1 0 -1.8 0M142 158.9a0.9 0.9 0 1 0 1.8 0a0.9 0.9 0 1 0 -1.8 0M146.7 157.6a0.9 0.9 0 1 0 1.8 0a0.9 0.9 0 1 0 -1.8 0M150 160.3a0.9 0.9 0 1 0 1.8 0a0.9 0.9 0 1 0 -1.8 0M156.1 160.3a0.9 0.9 0 1 0 1.8 0a0.9 0.9 0 1 0 -1.8 0M157.4 163a0.9 0.9 0 1 0 1.8 0a0.9 0.9 0 1 0 -1.8 0M162.8 160.3a0.9 0.9 0 1 0 1.8 0a0.9 0.9 0 1 0 -1.8 0M164.8 160.9a0.9 0.9 0 1 0 1.8 0a0.9 0.9 0 1 0 -1.8 0M149.4 163.6a0.9 0.9 0 1 0 1.8 0a0.9 0.9 0 1 0 -1.8 0M152.7 164.3a0.9 0.9 0 1 0 1.8 0a0.9 0.9 0 1 0 -1.8 0M139.3 160.3a0.9 0.9 0 1 0 1.8 0a0.9 0.9 0 1 0 -1.8 0M144.7 165.6a0.9 0.9 0 1 0 1.8 0a0.9 0.9 0 1 0 -1.8 0M148.7 167a0.9 0.9 0 1 0 1.8 0a0.9 0.9 0 1 0 -1.8 0M139.3 169.7a0.9 0.9 0 1 0 1.8 0a0.9 0.9 0 1 0 -1.8 0M146 168.3a0.9 0.9 0 1 0 1.8 0a0.9 0.9 0 1 0 -1.8 0M137.3 171a0.9 0.9 0 1 0 1.8 0a0.9 0.9 0 1 0 -1.8 0M215.5 140.3a0.9 0.9 0 1 0 1.8 0a0.9 0.9 0 1 0 -1.8 0M222.6 147.9a0.9 0.9 0 1 0 1.8 0a0.9 0.9 0 1 0 -1.8 0M221.7 149.2a0.9 0.9 0 1 0 1.8 0a0.9 0.9 0 1 0 -1.8 0M221 150.6a0.9 0.9 0 1 0 1.8 0a0.9 0.9 0 1 0 -1.8 0M123.1 162.1a0.9 0.9 0 1 0 1.8 0a0.9 0.9 0 1 0 -1.8 0M131.6 170.8a0.9 0.9 0 1 0 1.8 0a0.9 0.9 0 1 0 -1.8 0M128.9 169.9a0.9 0.9 0 1 0 1.8 0a0.9 0.9 0 1 0 -1.8 0M115.6 140.7a0.9 0.9 0 1 0 1.8 0a0.9 0.9 0 1 0 -1.8 0M119.2 154.9a0.9 0.9 0 1 0 1.8 0a0.9 0.9 0 1 0 -1.8 0M102.9 139.3a0.9 0.9 0 1 0 1.8 0a0.9 0.9 0 1 0 -1.8 0M119 159.4a0.9 0.9 0 1 0 1.8 0a0.9 0.9 0 1 0 -1.8 0M110.3 137.2a0.9 0.9 0 1 0 1.8 0a0.9 0.9 0 1 0 -1.8 0M109.2 143.4a0.9 0.9 0 1 0 1.8 0a0.9 0.9 0 1 0 -1.8 0M108.1 150.8a0.9 0.9 0 1 0 1.8 0a0.9 0.9 0 1 0 -1.8 0M129.3 166.6a0.9 0.9 0 1 0 1.8 0a0.9 0.9 0 1 0 -1.8 0M110.5 155a0.9 0.9 0 1 0 1.8 0a0.9 0.9 0 1 0 -1.8 0M138.2 170.8a0.9 0.9 0 1 0 1.8 0a0.9 0.9 0 1 0 -1.8 0M109.5 145.4a0.9 0.9 0 1 0 1.8 0a0.9 0.9 0 1 0 -1.8 0M118.3 163.6a0.9 0.9 0 1 0 1.8 0a0.9 0.9 0 1 0 -1.8 0M131.7 167.2a0.9 0.9 0 1 0 1.8 0a0.9 0.9 0 1 0 -1.8 0M108.1 137.7a0.9 0.9 0 1 0 1.8 0a0.9 0.9 0 1 0 -1.8 0M96.4 136.4a0.9 0.9 0 1 0 1.8 0a0.9 0.9 0 1 0 -1.8 0M112.5 140.3a0.9 0.9 0 1 0 1.8 0a0.9 0.9 0 1 0 -1.8 0M121.7 165.8a0.9 0.9 0 1 0 1.8 0a0.9 0.9 0 1 0 -1.8 0M114.9 148.3a0.9 0.9 0 1 0 1.8 0a0.9 0.9 0 1 0 -1.8 0M128.5 171.1a0.9 0.9 0 1 0 1.8 0a0.9 0.9 0 1 0 -1.8 0M111.3 150.5a0.9 0.9 0 1 0 1.8 0a0.9 0.9 0 1 0 -1.8 0M118.9 157a0.9 0.9 0 1 0 1.8 0a0.9 0.9 0 1 0 -1.8 0M102.1 148.7a0.9 0.9 0 1 0 1.8 0a0.9 0.9 0 1 0 -1.8 0M114.9 170.8a0.9 0.9 0 1 0 1.8 0a0.9 0.9 0 1 0 -1.8 0M104.1 152.7a0.9 0.9 0 1 0 1.8 0a0.9 0.9 0 1 0 -1.8 0M122.2 174.4a0.9 0.9 0 1 0 1.8 0a0.9 0.9 0 1 0 -1.8 0M120.4 157.9a0.9 0.9 0 1 0 1.8 0a0.9 0.9 0 1 0 -1.8 0M104.8 149.5a0.9 0.9 0 1 0 1.8 0a0.9 0.9 0 1 0 -1.8 0M122.6 157.2a0.9 0.9 0 1 0 1.8 0a0.9 0.9 0 1 0 -1.8 0M101.7 152.2a0.9 0.9 0 1 0 1.8 0a0.9 0.9 0 1 0 -1.8 0M124.1 158.8a0.9 0.9 0 1 0 1.8 0a0.9 0.9 0 1 0 -1.8 0M110.9 163.6a0.9 0.9 0 1 0 1.8 0a0.9 0.9 0 1 0 -1.8 0M115.9 155a0.9 0.9 0 1 0 1.8 0a0.9 0.9 0 1 0 -1.8 0M128.2 167a0.9 0.9 0 1 0 1.8 0a0.9 0.9 0 1 0 -1.8 0M108.4 163.2a0.9 0.9 0 1 0 1.8 0a0.9 0.9 0 1 0 -1.8 0M118.5 172.3a0.9 0.9 0 1 0 1.8 0a0.9 0.9 0 1 0 -1.8 0M114.7 168.7a0.9 0.9 0 1 0 1.8 0a0.9 0.9 0 1 0 -1.8 0M105.1 160.7a0.9 0.9 0 1 0 1.8 0a0.9 0.9 0 1 0 -1.8 0M127.1 163.2a0.9 0.9 0 1 0 1.8 0a0.9 0.9 0 1 0 -1.8 0M124.6 163.8a0.9 0.9 0 1 0 1.8 0a0.9 0.9 0 1 0 -1.8 0M120.5 159.7a0.9 0.9 0 1 0 1.8 0a0.9 0.9 0 1 0 -1.8 0M116.7 165.9a0.9 0.9 0 1 0 1.8 0a0.9 0.9 0 1 0 -1.8 0M122.9 175.8a0.9 0.9 0 1 0 1.8 0a0.9 0.9 0 1 0 -1.8 0M113.5 166.1a0.9 0.9 0 1 0 1.8 0a0.9 0.9 0 1 0 -1.8 0M105.6 149.5a0.9 0.9 0 1 0 1.8 0a0.9 0.9 0 1 0 -1.8 0M104.3 153.4a0.9 0.9 0 1 0 1.8 0a0.9 0.9 0 1 0 -1.8 0M119.4 172.5a0.9 0.9 0 1 0 1.8 0a0.9 0.9 0 1 0 -1.8 0M129.1 171.9a0.9 0.9 0 1 0 1.8 0a0.9 0.9 0 1 0 -1.8 0M109.6 158.5a0.9 0.9 0 1 0 1.8 0a0.9 0.9 0 1 0 -1.8 0M105.9 153a0.9 0.9 0 1 0 1.8 0a0.9 0.9 0 1 0 -1.8 0M108 160.5a0.9 0.9 0 1 0 1.8 0a0.9 0.9 0 1 0 -1.8 0M112.9 163a0.9 0.9 0 1 0 1.8 0a0.9 0.9 0 1 0 -1.8 0M118.2 164.5a0.9 0.9 0 1 0 1.8 0a0.9 0.9 0 1 0 -1.8 0M132 169.4a0.9 0.9 0 1 0 1.8 0a0.9 0.9 0 1 0 -1.8 0M131.1 169.9a0.9 0.9 0 1 0 1.8 0a0.9 0.9 0 1 0 -1.8 0M113.7 158a0.9 0.9 0 1 0 1.8 0a0.9 0.9 0 1 0 -1.8 0M101.8 148a0.9 0.9 0 1 0 1.8 0a0.9 0.9 0 1 0 -1.8 0M107.1 150.9a0.9 0.9 0 1 0 1.8 0a0.9 0.9 0 1 0 -1.8 0M111.8 147.6a0.9 0.9 0 1 0 1.8 0a0.9 0.9 0 1 0 -1.8 0M108.7 156.4a0.9 0.9 0 1 0 1.8 0a0.9 0.9 0 1 0 -1.8 0M112.7 149.7a0.9 0.9 0 1 0 1.8 0a0.9 0.9 0 1 0 -1.8 0M116.4 160.5a0.9 0.9 0 1 0 1.8 0a0.9 0.9 0 1 0 -1.8 0M102.7 149.1a0.9 0.9 0 1 0 1.8 0a0.9 0.9 0 1 0 -1.8 0M111.9 153.9a0.9 0.9 0 1 0 1.8 0a0.9 0.9 0 1 0 -1.8 0M118.6 175.4a0.9 0.9 0 1 0 1.8 0a0.9 0.9 0 1 0 -1.8 0M88.6 124.1a0.9 0.9 0 1 0 1.8 0a0.9 0.9 0 1 0 -1.8 0M76.1 110a0.9 0.9 0 1 0 1.8 0a0.9 0.9 0 1 0 -1.8 0M83 116.5a0.9 0.9 0 1 0 1.8 0a0.9 0.9 0 1 0 -1.8 0M91.7 128.3a0.9 0.9 0 1 0 1.8 0a0.9 0.9 0 1 0 -1.8 0M77.4 109.7a0.9 0.9 0 1 0 1.8 0a0.9 0.9 0 1 0 -1.8 0M97.5 138a0.9 0.9 0 1 0 1.8 0a0.9 0.9 0 1 0 -1.8 0M74.8 106.2a0.9 0.9 0 1 0 1.8 0a0.9 0.9 0 1 0 -1.8 0M87.1 120.3a0.9 0.9 0 1 0 1.8 0a0.9 0.9 0 1 0 -1.8 0M74.7 105.7a0.9 0.9 0 1 0 1.8 0a0.9 0.9 0 1 0 -1.8 0M76.4 108.4a0.9 0.9 0 1 0 1.8 0a0.9 0.9 0 1 0 -1.8 0M75.9 107.9a0.9 0.9 0 1 0 1.8 0a0.9 0.9 0 1 0 -1.8 0M83.8 117a0.9 0.9 0 1 0 1.8 0a0.9 0.9 0 1 0 -1.8 0M92.7 130.4a0.9 0.9 0 1 0 1.8 0a0.9 0.9 0 1 0 -1.8 0M96.4 134.5a0.9 0.9 0 1 0 1.8 0a0.9 0.9 0 1 0 -1.8 0M91.3 127.6a0.9 0.9 0 1 0 1.8 0a0.9 0.9 0 1 0 -1.8 0M72.5 104.4a0.9 0.9 0 1 0 1.8 0a0.9 0.9 0 1 0 -1.8 0" fill="#ff0000"/>
<g class="tl"><text x="27.1" y="138.9" text-anchor="end">0</text><text x="27.1" y="111.17" text-anchor="end">50</text><text x="27.1" y="83.43" text-anchor="end">100</text><text x="27.1" y="55.7" text-anchor="end">150</text><text x="113.3" y="183.6" text-anchor="middle">0</text><text x="75.55" y="167.75" text-anchor="middle">5</text><text x="37.79" y="151.91" text-anchor="middle">10</text><text x="128.8" y="185.5">0</text><text x="158.18" y="178.17">50</text><text x="187.55" y="170.85">100</text><text x="216.93" y="163.53">150</text><text x="246.3" y="156.2">200</text></g>
<text class="lab" x="22.5" y="185.2">Solar Irradiance(MJ/m<tspan dy="-3" font-size="5">2</tspan><tspan dy="3">)</tspan></text>
<text class="lab" x="174.5" y="187.6">Rainfall(mm)</text>
<text class="lab zl" transform="translate(12.0,95.7) rotate(-90)" text-anchor="middle">Solar Power(kW)</text>
<text class="ttl" x="137.0" y="23.4" text-anchor="middle">Summer</text>
<text class="cap" x="132.2" y="216.7" text-anchor="middle">(<tspan font-weight="bold">b</tspan>)</text>
</g>
<g transform="translate(0,223.3)">
<path d="M121.8 175.6L239.3 146.3M239.3 146.3L239.3 63.1M79.37 157.41L197.16 128.73M197.16 128.73L197.16 45.53M36.94 139.22L155.01 111.16M155.01 111.16L155.01 27.96M121.8 175.6L32.7 137.4M32.7 137.4L32.7 54.2M141.89 170.59L52.89 132.61M52.89 132.61L52.89 49.41M161.97 165.58L73.08 127.83M73.08 127.83L73.08 44.63M182.06 160.57L93.26 123.04M93.26 123.04L93.26 39.84M202.14 155.57L113.45 118.25M113.45 118.25L113.45 35.05M222.23 150.56L133.64 113.47M133.64 113.47L133.64 30.27M32.7 137.4L150.8 109.4M150.8 109.4L239.3 146.3M32.7 109.67L150.8 81.67M150.8 81.67L239.3 118.57M32.7 81.93L150.8 53.93M150.8 53.93L239.3 90.83M32.7 54.2L150.8 26.2M150.8 26.2L239.3 63.1" stroke="#ececec" stroke-width="0.7" fill="none"/>
<path d="M33 54.2L33 137.4" stroke="#b0b0b0" stroke-width="1.5" fill="none"/>
<path d="M32.7 138.2L121.8 175.6L239.3 146.3M30.3 136.8L32.7 137.8M30.3 109.07L32.7 110.07M30.3 81.33L32.7 82.33M30.3 53.6L32.7 54.6M121.8 175.6l-1.6 1.2M79.37 157.79l-1.6 1.2M36.94 139.98l-1.6 1.2M121.8 175.6l1.9 1.3M141.89 170.59l1.9 1.3M161.97 165.58l1.9 1.3M182.06 160.57l1.9 1.3M202.14 155.57l1.9 1.3M222.23 150.56l1.9 1.3" stroke="#5a5a5a" stroke-width="0.75" fill="none"/>
<polygon points="40.79,74 38.58,75.2 43.91,82.47 49.33,89.74 54.84,97.01 60.44,104.28 66.13,111.55 71.9,118.82 77.77,126.08 83.73,133.35 89.77,140.62 95.9,147.89 102.13,155.16 108.44,162.43 114.84,169.7 118,173.1 122.4,176.4 125.5,175.7 127.5,173.5 121.32,169.7 114.52,162.43 107.85,155.16 101.33,147.89 94.94,140.62 88.69,133.35 82.57,126.08 76.59,118.82 70.75,111.55 65.05,104.28 59.48,97.01 54.05,89.74 48.75,82.47 43.6,75.2" fill="#ff0000" stroke="#ff0000" stroke-width="0.9" stroke-linejoin="round"/>
<path d="M31 67.1h4M33 65.1v4M31.55 65.65l2.9 2.9M31.55 68.55l2.9 -2.9M31.6 68.8h4M33.6 66.8v4M32.15 67.35l2.9 2.9M32.15 70.25l2.9 -2.9M34.7 70.4h4M36.7 68.4v4M35.25 68.95l2.9 2.9M35.25 71.85l2.9 -2.9M60.9 88.7h4M62.9 86.7v4M61.45 87.25l2.9 2.9M61.45 90.15l2.9 -2.9M64.3 91.7h4M66.3 89.7v4M64.85 90.25l2.9 2.9M64.85 93.15l2.9 -2.9M74.7 95.6h4M76.7 93.6v4M75.25 94.15l2.9 2.9M75.25 97.05l2.9 -2.9M64 99.5h4M66 97.5v4M64.55 98.05l2.9 2.9M64.55 100.95l2.9 -2.9M65.7 101.2h4M67.7 99.2v4M66.25 99.75l2.9 2.9M66.25 102.65l2.9 -2.9M68.5 107.9h4M70.5 105.9v4M69.05 106.45l2.9 2.9M69.05 109.35l2.9 -2.9M63.7 99.4h4M65.7 97.4v4M64.25 97.95l2.9 2.9M64.25 100.85l2.9 -2.9M65.8 102.1h4M67.8 100.1v4M66.35 100.65l2.9 2.9M66.35 103.55l2.9 -2.9M68.4 107.4h4M70.4 105.4v4M68.95 105.95l2.9 2.9M68.95 108.85l2.9 -2.9M72.5 110.8h4M74.5 108.8v4M73.05 109.35l2.9 2.9M73.05 112.25l2.9 -2.9M91.9 114.1h4M93.9 112.1v4M92.45 112.65l2.9 2.9M92.45 115.55l2.9 -2.9M87.2 119.5h4M89.2 117.5v4M87.75 118.05l2.9 2.9M87.75 120.95l2.9 -2.9M81.2 120.9h4M83.2 118.9v4M81.75 119.45l2.9 2.9M81.75 122.35l2.9 -2.9M81.9 124.2h4M83.9 122.2v4M82.45 122.75l2.9 2.9M82.45 125.65l2.9 -2.9M87.2 128.2h4M89.2 126.2v4M87.75 126.75l2.9 2.9M87.75 129.65l2.9 -2.9M87.9 128.9h4M89.9 126.9v4M88.45 127.45l2.9 2.9M88.45 130.35l2.9 -2.9M97.3 132.3h4M99.3 130.3v4M97.85 130.85l2.9 2.9M97.85 133.75l2.9 -2.9M107.4 135h4M109.4 133v4M107.95 133.55l2.9 2.9M107.95 136.45l2.9 -2.9M93.9 137.6h4M95.9 135.6v4M94.45 136.15l2.9 2.9M94.45 139.05l2.9 -2.9M98.6 145h4M100.6 143v4M99.15 143.55l2.9 2.9M99.15 146.45l2.9 -2.9M102 145.7h4M104 143.7v4M102.55 144.25l2.9 2.9M102.55 147.15l2.9 -2.9M109.4 146.4h4M111.4 144.4v4M109.95 144.95l2.9 2.9M109.95 147.85l2.9 -2.9M103.3 151.1h4M105.3 149.1v4M103.85 149.65l2.9 2.9M103.85 152.55l2.9 -2.9M108 152.4h4M110 150.4v4M108.55 150.95l2.9 2.9M108.55 153.85l2.9 -2.9M112.1 151.7h4M114.1 149.7v4M112.65 150.25l2.9 2.9M112.65 153.15l2.9 -2.9M97.5 132.3h4M99.5 130.3v4M98.05 130.85l2.9 2.9M98.05 133.75l2.9 -2.9M107.6 134.5h4M109.6 132.5v4M108.15 133.05l2.9 2.9M108.15 135.95l2.9 -2.9M123.2 140.1h4M125.2 138.1v4M123.75 138.65l2.9 2.9M123.75 141.55l2.9 -2.9M132.2 141.8h4M134.2 139.8v4M132.75 140.35l2.9 2.9M132.75 143.25l2.9 -2.9M133.3 142.9h4M135.3 140.9v4M133.85 141.45l2.9 2.9M133.85 144.35l2.9 -2.9M131.1 145.7h4M133.1 143.7v4M131.65 144.25l2.9 2.9M131.65 147.15l2.9 -2.9M129.9 148.5h4M131.9 146.5v4M130.45 147.05l2.9 2.9M130.45 149.95l2.9 -2.9M109.3 146.2h4M111.3 144.2v4M109.85 144.75l2.9 2.9M109.85 147.65l2.9 -2.9M112.6 151.3h4M114.6 149.3v4M113.15 149.85l2.9 2.9M113.15 152.75l2.9 -2.9M114.8 152.4h4M116.8 150.4v4M115.35 150.95l2.9 2.9M115.35 153.85l2.9 -2.9M124.9 153.5h4M126.9 151.5v4M125.45 152.05l2.9 2.9M125.45 154.95l2.9 -2.9M121.6 156.3h4M123.6 154.3v4M122.15 154.85l2.9 2.9M122.15 157.75l2.9 -2.9M131.6 156.9h4M133.6 154.9v4M132.15 155.45l2.9 2.9M132.15 158.35l2.9 -2.9M133.9 157.4h4M135.9 155.4v4M134.45 155.95l2.9 2.9M134.45 158.85l2.9 -2.9M137.2 157.4h4M139.2 155.4v4M137.75 155.95l2.9 2.9M137.75 158.85l2.9 -2.9M111.5 159.1h4M113.5 157.1v4M112.05 157.65l2.9 2.9M112.05 160.55l2.9 -2.9M119.3 160.2h4M121.3 158.2v4M119.85 158.75l2.9 2.9M119.85 161.65l2.9 -2.9M129.9 161.3h4M131.9 159.3v4M130.45 159.85l2.9 2.9M130.45 162.75l2.9 -2.9M114.8 164.1h4M116.8 162.1v4M115.35 162.65l2.9 2.9M115.35 165.55l2.9 -2.9M123.8 164.1h4M125.8 162.1v4M124.35 162.65l2.9 2.9M124.35 165.55l2.9 -2.9M128.3 165.3h4M130.3 163.3v4M128.85 163.85l2.9 2.9M128.85 166.75l2.9 -2.9M120.4 168.6h4M122.4 166.6v4M120.95 167.15l2.9 2.9M120.95 170.05l2.9 -2.9M127.1 169.7h4M129.1 167.7v4M127.65 168.25l2.9 2.9M127.65 171.15l2.9 -2.9M130.5 168.6h4M132.5 166.6v4M131.05 167.15l2.9 2.9M131.05 170.05l2.9 -2.9M133.9 166.4h4M135.9 164.4v4M134.45 164.95l2.9 2.9M134.45 167.85l2.9 -2.9M135 169.7h4M137 167.7v4M135.55 168.25l2.9 2.9M135.55 171.15l2.9 -2.9M137.2 165.3h4M139.2 163.3v4M137.75 163.85l2.9 2.9M137.75 166.75l2.9 -2.9M128.3 172h4M130.3 170v4M128.85 170.55l2.9 2.9M128.85 173.45l2.9 -2.9M132.7 172h4M134.7 170v4M133.25 170.55l2.9 2.9M133.25 173.45l2.9 -2.9M140.8 122.1h4M142.8 120.1v4M141.35 120.65l2.9 2.9M141.35 123.55l2.9 -2.9M142.8 123.1h4M144.8 121.1v4M143.35 121.65l2.9 2.9M143.35 124.55l2.9 -2.9M132.7 130.2h4M134.7 128.2v4M133.25 128.75l2.9 2.9M133.25 131.65l2.9 -2.9M159.5 128.8h4M161.5 126.8v4M160.05 127.35l2.9 2.9M160.05 130.25l2.9 -2.9M136.7 134.9h4M138.7 132.9v4M137.25 133.45l2.9 2.9M137.25 136.35l2.9 -2.9M163.6 134.2h4M165.6 132.2v4M164.15 132.75l2.9 2.9M164.15 135.65l2.9 -2.9M132 140.9h4M134 138.9v4M132.55 139.45l2.9 2.9M132.55 142.35l2.9 -2.9M133.4 142.3h4M135.4 140.3v4M133.95 140.85l2.9 2.9M133.95 143.75l2.9 -2.9M132.7 145h4M134.7 143v4M133.25 143.55l2.9 2.9M133.25 146.45l2.9 -2.9M164.9 142.9h4M166.9 140.9v4M165.45 141.45l2.9 2.9M165.45 144.35l2.9 -2.9M129.3 147.6h4M131.3 145.6v4M129.85 146.15l2.9 2.9M129.85 149.05l2.9 -2.9M173 149.7h4M175 147.7v4M173.55 148.25l2.9 2.9M173.55 151.15l2.9 -2.9M175 150.3h4M177 148.3v4M175.55 148.85l2.9 2.9M175.55 151.75l2.9 -2.9M165.6 150.3h4M167.6 148.3v4M166.15 148.85l2.9 2.9M166.15 151.75l2.9 -2.9M179 152.3h4M181 150.3v4M179.55 150.85l2.9 2.9M179.55 153.75l2.9 -2.9M179 155h4M181 153v4M179.55 153.55l2.9 2.9M179.55 156.45l2.9 -2.9M182.4 157h4M184.4 155v4M182.95 155.55l2.9 2.9M182.95 158.45l2.9 -2.9M162.2 154.4h4M164.2 152.4v4M162.75 152.95l2.9 2.9M162.75 155.85l2.9 -2.9M145.4 153h4M147.4 151v4M145.95 151.55l2.9 2.9M145.95 154.45l2.9 -2.9M148.8 152.3h4M150.8 150.3v4M149.35 150.85l2.9 2.9M149.35 153.75l2.9 -2.9M138.7 153.7h4M140.7 151.7v4M139.25 152.25l2.9 2.9M139.25 155.15l2.9 -2.9M146.8 156.4h4M148.8 154.4v4M147.35 154.95l2.9 2.9M147.35 157.85l2.9 -2.9M131.4 157h4M133.4 155v4M131.95 155.55l2.9 2.9M131.95 158.45l2.9 -2.9M134 157.7h4M136 155.7v4M134.55 156.25l2.9 2.9M134.55 159.15l2.9 -2.9M136.7 157.7h4M138.7 155.7v4M137.25 156.25l2.9 2.9M137.25 159.15l2.9 -2.9M147.5 159.7h4M149.5 157.7v4M148.05 158.25l2.9 2.9M148.05 161.15l2.9 -2.9M130 161.1h4M132 159.1v4M130.55 159.65l2.9 2.9M130.55 162.55l2.9 -2.9M141.4 161.7h4M143.4 159.7v4M141.95 160.25l2.9 2.9M141.95 163.15l2.9 -2.9M144.1 161.7h4M146.1 159.7v4M144.65 160.25l2.9 2.9M144.65 163.15l2.9 -2.9M157.5 161.1h4M159.5 159.1v4M158.05 159.65l2.9 2.9M158.05 162.55l2.9 -2.9M159.5 163.1h4M161.5 161.1v4M160.05 161.65l2.9 2.9M160.05 164.55l2.9 -2.9M168.3 162.4h4M170.3 160.4v4M168.85 160.95l2.9 2.9M168.85 163.85l2.9 -2.9M173.6 161.1h4M175.6 159.1v4M174.15 159.65l2.9 2.9M174.15 162.55l2.9 -2.9M134.7 165.1h4M136.7 163.1v4M135.25 163.65l2.9 2.9M135.25 166.55l2.9 -2.9M138.1 164.4h4M140.1 162.4v4M138.65 162.95l2.9 2.9M138.65 165.85l2.9 -2.9M151.5 164.4h4M153.5 162.4v4M152.05 162.95l2.9 2.9M152.05 165.85l2.9 -2.9M190 98.7h4M192 96.7v4M190.55 97.25l2.9 2.9M190.55 100.15l2.9 -2.9M196.4 108.5h4M198.4 106.5v4M196.95 107.05l2.9 2.9M196.95 109.95l2.9 -2.9M189.7 112.8h4M191.7 110.8v4M190.25 111.35l2.9 2.9M190.25 114.25l2.9 -2.9M191.1 113.9h4M193.1 111.9v4M191.65 112.45l2.9 2.9M191.65 115.35l2.9 -2.9M210.5 118.2h4M212.5 116.2v4M211.05 116.75l2.9 2.9M211.05 119.65l2.9 -2.9M212.5 126.2h4M214.5 124.2v4M213.05 124.75l2.9 2.9M213.05 127.65l2.9 -2.9M209.6 127.8h4M211.6 125.8v4M210.15 126.35l2.9 2.9M210.15 129.25l2.9 -2.9M221.7 136.6h4M223.7 134.6v4M222.25 135.15l2.9 2.9M222.25 138.05l2.9 -2.9M231.6 138.7h4M233.6 136.7v4M232.15 137.25l2.9 2.9M232.15 140.15l2.9 -2.9M234 143h4M236 141v4M234.55 141.55l2.9 2.9M234.55 144.45l2.9 -2.9M236 145h4M238 143v4M236.55 143.55l2.9 2.9M236.55 146.45l2.9 -2.9M229.3 147h4M231.3 145v4M229.85 145.55l2.9 2.9M229.85 148.45l2.9 -2.9M200.4 154.4h4M202.4 152.4v4M200.95 152.95l2.9 2.9M200.95 155.85l2.9 -2.9M206.5 152.8h4M208.5 150.8v4M207.05 151.35l2.9 2.9M207.05 154.25l2.9 -2.9M211.9 151.5h4M213.9 149.5v4M212.45 150.05l2.9 2.9M212.45 152.95l2.9 -2.9M215.9 151.1h4M217.9 149.1v4M216.45 149.65l2.9 2.9M216.45 152.55l2.9 -2.9M219.2 150.7h4M221.2 148.7v4M219.75 149.25l2.9 2.9M219.75 152.15l2.9 -2.9M179.3 85.3h4M181.3 83.3v4M179.85 83.85l2.9 2.9M179.85 86.75l2.9 -2.9M141.5 121h4M143.5 119v4M142.05 119.55l2.9 2.9M142.05 122.45l2.9 -2.9M74.5 95.2h4M76.5 93.2v4M75.05 93.75l2.9 2.9M75.05 96.65l2.9 -2.9M68.6 107.5h4M70.6 105.5v4M69.15 106.05l2.9 2.9M69.15 108.95l2.9 -2.9M72.3 110.9h4M74.3 108.9v4M72.85 109.45l2.9 2.9M72.85 112.35l2.9 -2.9M91.7 114.8h4M93.7 112.8v4M92.25 113.35l2.9 2.9M92.25 116.25l2.9 -2.9M87 119.9h4M89 117.9v4M87.55 118.45l2.9 2.9M87.55 121.35l2.9 -2.9M80.9 121h4M82.9 119v4M81.45 119.55l2.9 2.9M81.45 122.45l2.9 -2.9M125 170.7h4M127 168.7v4M125.55 169.25l2.9 2.9M125.55 172.15l2.9 -2.9M129 173.7h4M131 171.7v4M129.55 172.25l2.9 2.9M129.55 175.15l2.9 -2.9M126 173.2h4M128 171.2v4M126.55 171.75l2.9 2.9M126.55 174.65l2.9 -2.9M131 172.7h4M133 170.7v4M131.55 171.25l2.9 2.9M131.55 174.15l2.9 -2.9M78.6 121.2h4M80.6 119.2v4M79.15 119.75l2.9 2.9M79.15 122.65l2.9 -2.9M110.1 158.1h4M112.1 156.1v4M110.65 156.65l2.9 2.9M110.65 159.55l2.9 -2.9M69.8 111.8h4M71.8 109.8v4M70.35 110.35l2.9 2.9M70.35 113.25l2.9 -2.9M69.3 109.1h4M71.3 107.1v4M69.85 107.65l2.9 2.9M69.85 110.55l2.9 -2.9M80.2 124.3h4M82.2 122.3v4M80.75 122.85l2.9 2.9M80.75 125.75l2.9 -2.9M97.1 144.2h4M99.1 142.2v4M97.65 142.75l2.9 2.9M97.65 145.65l2.9 -2.9M71.4 111.9h4M73.4 109.9v4M71.95 110.45l2.9 2.9M71.95 113.35l2.9 -2.9M109.5 156.7h4M111.5 154.7v4M110.05 155.25l2.9 2.9M110.05 158.15l2.9 -2.9M116.7 163.5h4M118.7 161.5v4M117.25 162.05l2.9 2.9M117.25 164.95l2.9 -2.9M110.9 159.1h4M112.9 157.1v4M111.45 157.65l2.9 2.9M111.45 160.55l2.9 -2.9M95.8 141.7h4M97.8 139.7v4M96.35 140.25l2.9 2.9M96.35 143.15l2.9 -2.9M88 132.5h4M90 130.5v4M88.55 131.05l2.9 2.9M88.55 133.95l2.9 -2.9M110.2 157.9h4M112.2 155.9v4M110.75 156.45l2.9 2.9M110.75 159.35l2.9 -2.9M102.9 150.1h4M104.9 148.1v4M103.45 148.65l2.9 2.9M103.45 151.55l2.9 -2.9M70 110h4M72 108v4M70.55 108.55l2.9 2.9M70.55 111.45l2.9 -2.9M71.8 114h4M73.8 112v4M72.35 112.55l2.9 2.9M72.35 115.45l2.9 -2.9M77.7 120.6h4M79.7 118.6v4M78.25 119.15l2.9 2.9M78.25 122.05l2.9 -2.9M85.5 130.9h4M87.5 128.9v4M86.05 129.45l2.9 2.9M86.05 132.35l2.9 -2.9M75.9 118.3h4M77.9 116.3v4M76.45 116.85l2.9 2.9M76.45 119.75l2.9 -2.9M83.7 129.1h4M85.7 127.1v4M84.25 127.65l2.9 2.9M84.25 130.55l2.9 -2.9M115.8 164.7h4M117.8 162.7v4M116.35 163.25l2.9 2.9M116.35 166.15l2.9 -2.9M113.9 162.4h4M115.9 160.4v4M114.45 160.95l2.9 2.9M114.45 163.85l2.9 -2.9M109.6 156.5h4M111.6 154.5v4M110.15 155.05l2.9 2.9M110.15 157.95l2.9 -2.9M71.2 113.2h4M73.2 111.2v4M71.75 111.75l2.9 2.9M71.75 114.65l2.9 -2.9M113.5 160h4M115.5 158v4M114.05 158.55l2.9 2.9M114.05 161.45l2.9 -2.9M110.8 159.3h4M112.8 157.3v4M111.35 157.85l2.9 2.9M111.35 160.75l2.9 -2.9" stroke="#ff0000" stroke-width="0.8" fill="none"/>
<path d="M32.1 67.1a0.9 0.9 0 1 0 1.8 0a0.9 0.9 0 1 0 -1.8 0M32.7 68.8a0.9 0.9 0 1 0 1.8 0a0.9 0.9 0 1 0 -1.8 0M35.8 70.4a0.9 0.9 0 1 0 1.8 0a0.9 0.9 0 1 0 -1.8 0M62 88.7a0.9 0.9 0 1 0 1.8 0a0.9 0.9 0 1 0 -1.8 0M65.4 91.7a0.9 0.9 0 1 0 1.8 0a0.9 0.9 0 1 0 -1.8 0M75.8 95.6a0.9 0.9 0 1 0 1.8 0a0.9 0.9 0 1 0 -1.8 0M65.1 99.5a0.9 0.9 0 1 0 1.8 0a0.9 0.9 0 1 0 -1.8 0M66.8 101.2a0.9 0.9 0 1 0 1.8 0a0.9 0.9 0 1 0 -1.8 0M69.6 107.9a0.9 0.9 0 1 0 1.8 0a0.9 0.9 0 1 0 -1.8 0M64.8 99.4a0.9 0.9 0 1 0 1.8 0a0.9 0.9 0 1 0 -1.8 0M66.9 102.1a0.9 0.9 0 1 0 1.8 0a0.9 0.9 0 1 0 -1.8 0M69.5 107.4a0.9 0.9 0 1 0 1.8 0a0.9 0.9 0 1 0 -1.8 0M73.6 110.8a0.9 0.9 0 1 0 1.8 0a0.9 0.9 0 1 0 -1.8 0M93 114.1a0.9 0.9 0 1 0 1.8 0a0.9 0.9 0 1 0 -1.8 0M88.3 119.5a0.9 0.9 0 1 0 1.8 0a0.9 0.9 0 1 0 -1.8 0M82.3 120.9a0.9 0.9 0 1 0 1.8 0a0.9 0.9 0 1 0 -1.8 0M83 124.2a0.9 0.9 0 1 0 1.8 0a0.9 0.9 0 1 0 -1.8 0M88.3 128.2a0.9 0.9 0 1 0 1.8 0a0.9 0.9 0 1 0 -1.8 0M89 128.9a0.9 0.9 0 1 0 1.8 0a0.9 0.9 0 1 0 -1.8 0M98.4 132.3a0.9 0.9 0 1 0 1.8 0a0.9 0.9 0 1 0 -1.8 0M108.5 135a0.9 0.9 0 1 0 1.8 0a0.9 0.9 0 1 0 -1.8 0M95 137.6a0.9 0.9 0 1 0 1.8 0a0.9 0.9 0 1 0 -1.8 0M99.7 145a0.9 0.9 0 1 0 1.8 0a0.9 0.9 0 1 0 -1.8 0M103.1 145.7a0.9 0.9 0 1 0 1.8 0a0.9 0.9 0 1 0 -1.8 0M110.5 146.4a0.9 0.9 0 1 0 1.8 0a0.9 0.9 0 1 0 -1.8 0M104.4 151.1a0.9 0.9 0 1 0 1.8 0a0.9 0.9 0 1 0 -1.8 0M109.1 152.4a0.9 0.9 0 1 0 1.8 0a0.9 0.9 0 1 0 -1.8 0M113.2 151.7a0.9 0.9 0 1 0 1.8 0a0.9 0.9 0 1 0 -1.8 0M98.6 132.3a0.9 0.9 0 1 0 1.8 0a0.9 0.9 0 1 0 -1.8 0M108.7 134.5a0.9 0.9 0 1 0 1.8 0a0.9 0.9 0 1 0 -1.8 0M124.3 140.1a0.9 0.9 0 1 0 1.8 0a0.9 0.9 0 1 0 -1.8 0M133.3 141.8a0.9 0.9 0 1 0 1.8 0a0.9 0.9 0 1 0 -1.8 0M134.4 142.9a0.9 0.9 0 1 0 1.8 0a0.9 0.9 0 1 0 -1.8 0M132.2 145.7a0.9 0.9 0 1 0 1.8 0a0.9 0.9 0 1 0 -1.8 0M131 148.5a0.9 0.9 0 1 0 1.8 0a0.9 0.9 0 1 0 -1.8 0M110.4 146.2a0.9 0.9 0 1 0 1.8 0a0.9 0.9 0 1 0 -1.8 0M113.7 151.3a0.9 0.9 0 1 0 1.8 0a0.9 0.9 0 1 0 -1.8 0M115.9 152.4a0.9 0.9 0 1 0 1.8 0a0.9 0.9 0 1 0 -1.8 0M126 153.5a0.9 0.9 0 1 0 1.8 0a0.9 0.9 0 1 0 -1.8 0M122.7 156.3a0.9 0.9 0 1 0 1.8 0a0.9 0.9 0 1 0 -1.8 0M132.7 156.9a0.9 0.9 0 1 0 1.8 0a0.9 0.9 0 1 0 -1.8 0M135 157.4a0.9 0.9 0 1 0 1.8 0a0.9 0.9 0 1 0 -1.8 0M138.3 157.4a0.9 0.9 0 1 0 1.8 0a0.9 0.9 0 1 0 -1.8 0M112.6 159.1a0.9 0.9 0 1 0 1.8 0a0.9 0.9 0 1 0 -1.8 0M120.4 160.2a0.9 0.9 0 1 0 1.8 0a0.9 0.9 0 1 0 -1.8 0M131 161.3a0.9 0.9 0 1 0 1.8 0a0.9 0.9 0 1 0 -1.8 0M115.9 164.1a0.9 0.9 0 1 0 1.8 0a0.9 0.9 0 1 0 -1.8 0M124.9 164.1a0.9 0.9 0 1 0 1.8 0a0.9 0.9 0 1 0 -1.8 0M129.4 165.3a0.9 0.9 0 1 0 1.8 0a0.9 0.9 0 1 0 -1.8 0M121.5 168.6a0.9 0.9 0 1 0 1.8 0a0.9 0.9 0 1 0 -1.8 0M128.2 169.7a0.9 0.9 0 1 0 1.8 0a0.9 0.9 0 1 0 -1.8 0M131.6 168.6a0.9 0.9 0 1 0 1.8 0a0.9 0.9 0 1 0 -1.8 0M135 166.4a0.9 0.9 0 1 0 1.8 0a0.9 0.9 0 1 0 -1.8 0M136.1 169.7a0.9 0.9 0 1 0 1.8 0a0.9 0.9 0 1 0 -1.8 0M138.3 165.3a0.9 0.9 0 1 0 1.8 0a0.9 0.9 0 1 0 -1.8 0M129.4 172a0.9 0.9 0 1 0 1.8 0a0.9 0.9 0 1 0 -1.8 0M133.8 172a0.9 0.9 0 1 0 1.8 0a0.9 0.9 0 1 0 -1.8 0M141.9 122.1a0.9 0.9 0 1 0 1.8 0a0.9 0.9 0 1 0 -1.8 0M143.9 123.1a0.9 0.9 0 1 0 1.8 0a0.9 0.9 0 1 0 -1.8 0M133.8 130.2a0.9 0.9 0 1 0 1.8 0a0.9 0.9 0 1 0 -1.8 0M160.6 128.8a0.9 0.9 0 1 0 1.8 0a0.9 0.9 0 1 0 -1.8 0M137.8 134.9a0.9 0.9 0 1 0 1.8 0a0.9 0.9 0 1 0 -1.8 0M164.7 134.2a0.9 0.9 0 1 0 1.8 0a0.9 0.9 0 1 0 -1.8 0M133.1 140.9a0.9 0.9 0 1 0 1.8 0a0.9 0.9 0 1 0 -1.8 0M134.5 142.3a0.9 0.9 0 1 0 1.8 0a0.9 0.9 0 1 0 -1.8 0M133.8 145a0.9 0.9 0 1 0 1.8 0a0.9 0.9 0 1 0 -1.8 0M166 142.9a0.9 0.9 0 1 0 1.8 0a0.9 0.9 0 1 0 -1.8 0M130.4 147.6a0.9 0.9 0 1 0 1.8 0a0.9 0.9 0 1 0 -1.8 0M174.1 149.7a0.9 0.9 0 1 0 1.8 0a0.9 0.9 0 1 0 -1.8 0M176.1 150.3a0.9 0.9 0 1 0 1.8 0a0.9 0.9 0 1 0 -1.8 0M166.7 150.3a0.9 0.9 0 1 0 1.8 0a0.9 0.9 0 1 0 -1.8 0M180.1 152.3a0.9 0.9 0 1 0 1.8 0a0.9 0.9 0 1 0 -1.8 0M180.1 155a0.9 0.9 0 1 0 1.8 0a0.9 0.9 0 1 0 -1.8 0M183.5 157a0.9 0.9 0 1 0 1.8 0a0.9 0.9 0 1 0 -1.8 0M163.3 154.4a0.9 0.9 0 1 0 1.8 0a0.9 0.9 0 1 0 -1.8 0M146.5 153a0.9 0.9 0 1 0 1.8 0a0.9 0.9 0 1 0 -1.8 0M149.9 152.3a0.9 0.9 0 1 0 1.8 0a0.9 0.9 0 1 0 -1.8 0M139.8 153.7a0.9 0.9 0 1 0 1.8 0a0.9 0.9 0 1 0 -1.8 0M147.9 156.4a0.9 0.9 0 1 0 1.8 0a0.9 0.9 0 1 0 -1.8 0M132.5 157a0.9 0.9 0 1 0 1.8 0a0.9 0.9 0 1 0 -1.8 0M135.1 157.7a0.9 0.9 0 1 0 1.8 0a0.9 0.9 0 1 0 -1.8 0M137.8 157.7a0.9 0.9 0 1 0 1.8 0a0.9 0.9 0 1 0 -1.8 0M148.6 159.7a0.9 0.9 0 1 0 1.8 0a0.9 0.9 0 1 0 -1.8 0M131.1 161.1a0.9 0.9 0 1 0 1.8 0a0.9 0.9 0 1 0 -1.8 0M142.5 161.7a0.9 0.9 0 1 0 1.8 0a0.9 0.9 0 1 0 -1.8 0M145.2 161.7a0.9 0.9 0 1 0 1.8 0a0.9 0.9 0 1 0 -1.8 0M158.6 161.1a0.9 0.9 0 1 0 1.8 0a0.9 0.9 0 1 0 -1.8 0M160.6 163.1a0.9 0.9 0 1 0 1.8 0a0.9 0.9 0 1 0 -1.8 0M169.4 162.4a0.9 0.9 0 1 0 1.8 0a0.9 0.9 0 1 0 -1.8 0M174.7 161.1a0.9 0.9 0 1 0 1.8 0a0.9 0.9 0 1 0 -1.8 0M135.8 165.1a0.9 0.9 0 1 0 1.8 0a0.9 0.9 0 1 0 -1.8 0M139.2 164.4a0.9 0.9 0 1 0 1.8 0a0.9 0.9 0 1 0 -1.8 0M152.6 164.4a0.9 0.9 0 1 0 1.8 0a0.9 0.9 0 1 0 -1.8 0M191.1 98.7a0.9 0.9 0 1 0 1.8 0a0.9 0.9 0 1 0 -1.8 0M197.5 108.5a0.9 0.9 0 1 0 1.8 0a0.9 0.9 0 1 0 -1.8 0M190.8 112.8a0.9 0.9 0 1 0 1.8 0a0.9 0.9 0 1 0 -1.8 0M192.2 113.9a0.9 0.9 0 1 0 1.8 0a0.9 0.9 0 1 0 -1.8 0M211.6 118.2a0.9 0.9 0 1 0 1.8 0a0.9 0.9 0 1 0 -1.8 0M213.6 126.2a0.9 0.9 0 1 0 1.8 0a0.9 0.9 0 1 0 -1.8 0M210.7 127.8a0.9 0.9 0 1 0 1.8 0a0.9 0.9 0 1 0 -1.8 0M222.8 136.6a0.9 0.9 0 1 0 1.8 0a0.9 0.9 0 1 0 -1.8 0M232.7 138.7a0.9 0.9 0 1 0 1.8 0a0.9 0.9 0 1 0 -1.8 0M235.1 143a0.9 0.9 0 1 0 1.8 0a0.9 0.9 0 1 0 -1.8 0M237.1 145a0.9 0.9 0 1 0 1.8 0a0.9 0.9 0 1 0 -1.8 0M230.4 147a0.9 0.9 0 1 0 1.8 0a0.9 0.9 0 1 0 -1.8 0M201.5 154.4a0.9 0.9 0 1 0 1.8 0a0.9 0.9 0 1 0 -1.8 0M207.6 152.8a0.9 0.9 0 1 0 1.8 0a0.9 0.9 0 1 0 -1.8 0M213 151.5a0.9 0.9 0 1 0 1.8 0a0.9 0.9 0 1 0 -1.8 0M217 151.1a0.9 0.9 0 1 0 1.8 0a0.9 0.9 0 1 0 -1.8 0M220.3 150.7a0.9 0.9 0 1 0 1.8 0a0.9 0.9 0 1 0 -1.8 0M180.4 85.3a0.9 0.9 0 1 0 1.8 0a0.9 0.9 0 1 0 -1.8 0M142.6 121a0.9 0.9 0 1 0 1.8 0a0.9 0.9 0 1 0 -1.8 0M75.6 95.2a0.9 0.9 0 1 0 1.8 0a0.9 0.9 0 1 0 -1.8 0M69.7 107.5a0.9 0.9 0 1 0 1.8 0a0.9 0.9 0 1 0 -1.8 0M73.4 110.9a0.9 0.9 0 1 0 1.8 0a0.9 0.9 0 1 0 -1.8 0M92.8 114.8a0.9 0.9 0 1 0 1.8 0a0.9 0.9 0 1 0 -1.8 0M88.1 119.9a0.9 0.9 0 1 0 1.8 0a0.9 0.9 0 1 0 -1.8 0M82 121a0.9 0.9 0 1 0 1.8 0a0.9 0.9 0 1 0 -1.8 0M126.1 170.7a0.9 0.9 0 1 0 1.8 0a0.9 0.9 0 1 0 -1.8 0M130.1 173.7a0.9 0.9 0 1 0 1.8 0a0.9 0.9 0 1 0 -1.8 0M127.1 173.2a0.9 0.9 0 1 0 1.8 0a0.9 0.9 0 1 0 -1.8 0M132.1 172.7a0.9 0.9 0 1 0 1.8 0a0.9 0.9 0 1 0 -1.8 0M79.7 121.2a0.9 0.9 0 1 0 1.8 0a0.9 0.9 0 1 0 -1.8 0M111.2 158.1a0.9 0.9 0 1 0 1.8 0a0.9 0.9 0 1 0 -1.8 0M70.9 111.8a0.9 0.9 0 1 0 1.8 0a0.9 0.9 0 1 0 -1.8 0M70.4 109.1a0.9 0.9 0 1 0 1.8 0a0.9 0.9 0 1 0 -1.8 0M81.3 124.3a0.9 0.9 0 1 0 1.8 0a0.9 0.9 0 1 0 -1.8 0M98.2 144.2a0.9 0.9 0 1 0 1.8 0a0.9 0.9 0 1 0 -1.8 0M72.5 111.9a0.9 0.9 0 1 0 1.8 0a0.9 0.9 0 1 0 -1.8 0M110.6 156.7a0.9 0.9 0 1 0 1.8 0a0.9 0.9 0 1 0 -1.8 0M117.8 163.5a0.9 0.9 0 1 0 1.8 0a0.9 0.9 0 1 0 -1.8 0M112 159.1a0.9 0.9 0 1 0 1.8 0a0.9 0.9 0 1 0 -1.8 0M96.9 141.7a0.9 0.9 0 1 0 1.8 0a0.9 0.9 0 1 0 -1.8 0M89.1 132.5a0.9 0.9 0 1 0 1.8 0a0.9 0.9 0 1 0 -1.8 0M111.3 157.9a0.9 0.9 0 1 0 1.8 0a0.9 0.9 0 1 0 -1.8 0M104 150.1a0.9 0.9 0 1 0 1.8 0a0.9 0.9 0 1 0 -1.8 0M71.1 110a0.9 0.9 0 1 0 1.8 0a0.9 0.9 0 1 0 -1.8 0M72.9 114a0.9 0.9 0 1 0 1.8 0a0.9 0.9 0 1 0 -1.8 0M78.8 120.6a0.9 0.9 0 1 0 1.8 0a0.9 0.9 0 1 0 -1.8 0M86.6 130.9a0.9 0.9 0 1 0 1.8 0a0.9 0.9 0 1 0 -1.8 0M77 118.3a0.9 0.9 0 1 0 1.8 0a0.9 0.9 0 1 0 -1.8 0M84.8 129.1a0.9 0.9 0 1 0 1.8 0a0.9 0.9 0 1 0 -1.8 0M116.9 164.7a0.9 0.9 0 1 0 1.8 0a0.9 0.9 0 1 0 -1.8 0M115 162.4a0.9 0.9 0 1 0 1.8 0a0.9 0.9 0 1 0 -1.8 0M110.7 156.5a0.9 0.9 0 1 0 1.8 0a0.9 0.9 0 1 0 -1.8 0M72.3 113.2a0.9 0.9 0 1 0 1.8 0a0.9 0.9 0 1 0 -1.8 0M114.6 160a0.9 0.9 0 1 0 1.8 0a0.9 0.9 0 1 0 -1.8 0M111.9 159.3a0.9 0.9 0 1 0 1.8 0a0.9 0.9 0 1 0 -1.8 0" fill="#ff0000"/>
<g class="tl"><text x="27.1" y="138.9" text-anchor="end">0</text><text x="27.1" y="111.17" text-anchor="end">50</text><text x="27.1" y="83.43" text-anchor="end">100</text><text x="27.1" y="55.7" text-anchor="end">150</text><text x="113.3" y="183.6" text-anchor="middle">0</text><text x="70.87" y="165.79" text-anchor="middle">5</text><text x="28.44" y="147.98" text-anchor="middle">10</text><text x="128.8" y="185.5">0</text><text x="148.89" y="180.49">20</text><text x="168.97" y="175.48">40</text><text x="189.06" y="170.47">60</text><text x="209.14" y="165.47">80</text><text x="229.23" y="160.46">100</text></g>
<text class="lab" x="20.7" y="183.1">Solar Irradiance(MJ/m<tspan dy="-3" font-size="5">2</tspan><tspan dy="3">)</tspan></text>
<text class="lab" x="174.4" y="187.8">Rainfall(mm)</text>
<text class="lab zl" transform="translate(12.0,95.7) rotate(-90)" text-anchor="middle">Solar Power(kW)</text>
<text class="ttl" x="137.0" y="23.1" text-anchor="middle">Autumn</text>
<text class="cap" x="132.5" y="216.7" text-anchor="middle">(<tspan font-weight="bold">c</tspan>)</text>
</g>
<g transform="translate(282.4,223.2)">
<path d="M121.8 175.6L239.3 146.3M239.3 146.3L239.3 63.1M96.12 164.59L213.8 135.67M213.8 135.67L213.8 52.47M70.45 153.58L188.29 125.03M188.29 125.03L188.29 41.83M44.77 142.57L162.79 114.4M162.79 114.4L162.79 31.2M121.8 175.6L32.7 137.4M32.7 137.4L32.7 54.2M151.55 168.18L62.6 130.31M62.6 130.31L62.6 47.11M181.29 160.76L92.5 123.22M92.5 123.22L92.5 40.02M211.04 153.35L122.4 116.13M122.4 116.13L122.4 32.93M32.7 137.4L150.8 109.4M150.8 109.4L239.3 146.3M32.7 120.76L150.8 92.76M150.8 92.76L239.3 129.66M32.7 104.12L150.8 76.12M150.8 76.12L239.3 113.02M32.7 87.48L150.8 59.48M150.8 59.48L239.3 96.38M32.7 70.84L150.8 42.84M150.8 42.84L239.3 79.74M32.7 54.2L150.8 26.2M150.8 26.2L239.3 63.1" stroke="#ececec" stroke-width="0.7" fill="none"/>
<path d="M33 54.2L33 137.4" stroke="#b0b0b0" stroke-width="1.5" fill="none"/>
<path d="M32.7 138.2L121.8 175.6L239.3 146.3M30.3 136.8L32.7 137.8M30.3 120.16L32.7 121.16M30.3 103.52L32.7 104.52M30.3 86.88L32.7 87.88M30.3 70.24L32.7 71.24M30.3 53.6L32.7 54.6M121.8 175.6l-1.6 1.2M96.12 164.82l-1.6 1.2M70.45 154.04l-1.6 1.2M44.77 143.27l-1.6 1.2M121.8 175.6l1.9 1.3M151.55 168.18l1.9 1.3M181.29 160.76l1.9 1.3M211.04 153.35l1.9 1.3" stroke="#5a5a5a" stroke-width="0.75" fill="none"/>
<polygon points="33.67,69.6 31.81,70.8 37.69,78.49 43.62,86.18 49.6,93.88 55.63,101.57 61.73,109.26 67.87,116.95 74.07,124.65 80.32,132.34 86.62,140.03 92.98,147.72 99.4,155.42 105.86,163.11 112.38,170.8 115.6,173.7 120,176.5 122.6,176.3 125.1,174.8 123.4,172.6 117.86,170.8 111.9,163.11 105.89,155.42 99.83,147.72 93.7,140.03 87.53,132.34 81.3,124.65 75.01,116.95 68.67,109.26 62.27,101.57 55.82,93.88 49.31,86.18 42.75,78.49 36.13,70.8" fill="#ff0000" stroke="#ff0000" stroke-width="0.9" stroke-linejoin="round"/>
<path d="M105.7 146.6h4M107.7 144.6v4M106.25 145.15l2.9 2.9M106.25 148.05l2.9 -2.9M111.9 150.8h4M113.9 148.8v4M112.45 149.35l2.9 2.9M112.45 152.25l2.9 -2.9M112.4 151.9h4M114.4 149.9v4M112.95 150.45l2.9 2.9M112.95 153.35l2.9 -2.9M118.6 149.7h4M120.6 147.7v4M119.15 148.25l2.9 2.9M119.15 151.15l2.9 -2.9M129.2 147.4h4M131.2 145.4v4M129.75 145.95l2.9 2.9M129.75 148.85l2.9 -2.9M130.9 148.5h4M132.9 146.5v4M131.45 147.05l2.9 2.9M131.45 149.95l2.9 -2.9M129.8 154.1h4M131.8 152.1v4M130.35 152.65l2.9 2.9M130.35 155.55l2.9 -2.9M133.7 156.9h4M135.7 154.9v4M134.25 155.45l2.9 2.9M134.25 158.35l2.9 -2.9M110.8 156.9h4M112.8 154.9v4M111.35 155.45l2.9 2.9M111.35 158.35l2.9 -2.9M114.1 160.8h4M116.1 158.8v4M114.65 159.35l2.9 2.9M114.65 162.25l2.9 -2.9M115.2 162h4M117.2 160v4M115.75 160.55l2.9 2.9M115.75 163.45l2.9 -2.9M120.8 160.8h4M122.8 158.8v4M121.35 159.35l2.9 2.9M121.35 162.25l2.9 -2.9M130.3 164.2h4M132.3 162.2v4M130.85 162.75l2.9 2.9M130.85 165.65l2.9 -2.9M130.9 170.4h4M132.9 168.4v4M131.45 168.95l2.9 2.9M131.45 171.85l2.9 -2.9M129.2 170.9h4M131.2 168.9v4M129.75 169.45l2.9 2.9M129.75 172.35l2.9 -2.9M133.7 171.5h4M135.7 169.5v4M134.25 170.05l2.9 2.9M134.25 172.95l2.9 -2.9M120.3 170.9h4M122.3 168.9v4M120.85 169.45l2.9 2.9M120.85 172.35l2.9 -2.9M129.4 147.6h4M131.4 145.6v4M129.95 146.15l2.9 2.9M129.95 149.05l2.9 -2.9M132.7 148.7h4M134.7 146.7v4M133.25 147.25l2.9 2.9M133.25 150.15l2.9 -2.9M146.9 152.5h4M148.9 150.5v4M147.45 151.05l2.9 2.9M147.45 153.95l2.9 -2.9M129.4 154.2h4M131.4 152.2v4M129.95 152.75l2.9 2.9M129.95 155.65l2.9 -2.9M133.5 156.3h4M135.5 154.3v4M134.05 154.85l2.9 2.9M134.05 157.75l2.9 -2.9M155 154.9h4M157 152.9v4M155.55 153.45l2.9 2.9M155.55 156.35l2.9 -2.9M160.5 153.8h4M162.5 151.8v4M161.05 152.35l2.9 2.9M161.05 155.25l2.9 -2.9M145.2 160.2h4M147.2 158.2v4M145.75 158.75l2.9 2.9M145.75 161.65l2.9 -2.9M144.7 161.8h4M146.7 159.8v4M145.25 160.35l2.9 2.9M145.25 163.25l2.9 -2.9M159.4 159.6h4M161.4 157.6v4M159.95 158.15l2.9 2.9M159.95 161.05l2.9 -2.9M154.5 162.9h4M156.5 160.9v4M155.05 161.45l2.9 2.9M155.05 164.35l2.9 -2.9M157.8 162.9h4M159.8 160.9v4M158.35 161.45l2.9 2.9M158.35 164.35l2.9 -2.9M160 164.5h4M162 162.5v4M160.55 163.05l2.9 2.9M160.55 165.95l2.9 -2.9M165.9 162.6h4M167.9 160.6v4M166.45 161.15l2.9 2.9M166.45 164.05l2.9 -2.9M168.7 162.6h4M170.7 160.6v4M169.25 161.15l2.9 2.9M169.25 164.05l2.9 -2.9M130.5 164.5h4M132.5 162.5v4M131.05 163.05l2.9 2.9M131.05 165.95l2.9 -2.9M140.9 165.1h4M142.9 163.1v4M141.45 163.65l2.9 2.9M141.45 166.55l2.9 -2.9M139.8 167.2h4M141.8 165.2v4M140.35 165.75l2.9 2.9M140.35 168.65l2.9 -2.9M137.6 168.9h4M139.6 166.9v4M138.15 167.45l2.9 2.9M138.15 170.35l2.9 -2.9M129.4 170h4M131.4 168v4M129.95 168.55l2.9 2.9M129.95 171.45l2.9 -2.9M133.8 171.1h4M135.8 169.1v4M134.35 169.65l2.9 2.9M134.35 172.55l2.9 -2.9M128.3 171.6h4M130.3 169.6v4M128.85 170.15l2.9 2.9M128.85 173.05l2.9 -2.9M198.9 142.4h4M200.9 140.4v4M199.45 140.95l2.9 2.9M199.45 143.85l2.9 -2.9M198.9 145.4h4M200.9 143.4v4M199.45 143.95l2.9 2.9M199.45 146.85l2.9 -2.9M195.6 147.9h4M197.6 145.9v4M196.15 146.45l2.9 2.9M196.15 149.35l2.9 -2.9M207.3 146.2h4M209.3 144.2v4M207.85 144.75l2.9 2.9M207.85 147.65l2.9 -2.9M213.9 150.8h4M215.9 148.8v4M214.45 149.35l2.9 2.9M214.45 152.25l2.9 -2.9M63.6 104.2h4M65.6 102.2v4M64.15 102.75l2.9 2.9M64.15 105.65l2.9 -2.9M112.3 164.9h4M114.3 162.9v4M112.85 163.45l2.9 2.9M112.85 166.35l2.9 -2.9M103.2 152.4h4M105.2 150.4v4M103.75 150.95l2.9 2.9M103.75 153.85l2.9 -2.9M100.3 150.2h4M102.3 148.2v4M100.85 148.75l2.9 2.9M100.85 151.65l2.9 -2.9M63.9 106h4M65.9 104v4M64.45 104.55l2.9 2.9M64.45 107.45l2.9 -2.9M81.7 127.4h4M83.7 125.4v4M82.25 125.95l2.9 2.9M82.25 128.85l2.9 -2.9M97.2 146.4h4M99.2 144.4v4M97.75 144.95l2.9 2.9M97.75 147.85l2.9 -2.9M98.9 148.7h4M100.9 146.7v4M99.45 147.25l2.9 2.9M99.45 150.15l2.9 -2.9M64.5 104.9h4M66.5 102.9v4M65.05 103.45l2.9 2.9M65.05 106.35l2.9 -2.9M72.2 113.6h4M74.2 111.6v4M72.75 112.15l2.9 2.9M72.75 115.05l2.9 -2.9" stroke="#ff0000" stroke-width="0.8" fill="none"/>
<path d="M106.8 146.6a0.9 0.9 0 1 0 1.8 0a0.9 0.9 0 1 0 -1.8 0M113 150.8a0.9 0.9 0 1 0 1.8 0a0.9 0.9 0 1 0 -1.8 0M113.5 151.9a0.9 0.9 0 1 0 1.8 0a0.9 0.9 0 1 0 -1.8 0M119.7 149.7a0.9 0.9 0 1 0 1.8 0a0.9 0.9 0 1 0 -1.8 0M130.3 147.4a0.9 0.9 0 1 0 1.8 0a0.9 0.9 0 1 0 -1.8 0M132 148.5a0.9 0.9 0 1 0 1.8 0a0.9 0.9 0 1 0 -1.8 0M130.9 154.1a0.9 0.9 0 1 0 1.8 0a0.9 0.9 0 1 0 -1.8 0M134.8 156.9a0.9 0.9 0 1 0 1.8 0a0.9 0.9 0 1 0 -1.8 0M111.9 156.9a0.9 0.9 0 1 0 1.8 0a0.9 0.9 0 1 0 -1.8 0M115.2 160.8a0.9 0.9 0 1 0 1.8 0a0.9 0.9 0 1 0 -1.8 0M116.3 162a0.9 0.9 0 1 0 1.8 0a0.9 0.9 0 1 0 -1.8 0M121.9 160.8a0.9 0.9 0 1 0 1.8 0a0.9 0.9 0 1 0 -1.8 0M131.4 164.2a0.9 0.9 0 1 0 1.8 0a0.9 0.9 0 1 0 -1.8 0M132 170.4a0.9 0.9 0 1 0 1.8 0a0.9 0.9 0 1 0 -1.8 0M130.3 170.9a0.9 0.9 0 1 0 1.8 0a0.9 0.9 0 1 0 -1.8 0M134.8 171.5a0.9 0.9 0 1 0 1.8 0a0.9 0.9 0 1 0 -1.8 0M121.4 170.9a0.9 0.9 0 1 0 1.8 0a0.9 0.9 0 1 0 -1.8 0M130.5 147.6a0.9 0.9 0 1 0 1.8 0a0.9 0.9 0 1 0 -1.8 0M133.8 148.7a0.9 0.9 0 1 0 1.8 0a0.9 0.9 0 1 0 -1.8 0M148 152.5a0.9 0.9 0 1 0 1.8 0a0.9 0.9 0 1 0 -1.8 0M130.5 154.2a0.9 0.9 0 1 0 1.8 0a0.9 0.9 0 1 0 -1.8 0M134.6 156.3a0.9 0.9 0 1 0 1.8 0a0.9 0.9 0 1 0 -1.8 0M156.1 154.9a0.9 0.9 0 1 0 1.8 0a0.9 0.9 0 1 0 -1.8 0M161.6 153.8a0.9 0.9 0 1 0 1.8 0a0.9 0.9 0 1 0 -1.8 0M146.3 160.2a0.9 0.9 0 1 0 1.8 0a0.9 0.9 0 1 0 -1.8 0M145.8 161.8a0.9 0.9 0 1 0 1.8 0a0.9 0.9 0 1 0 -1.8 0M160.5 159.6a0.9 0.9 0 1 0 1.8 0a0.9 0.9 0 1 0 -1.8 0M155.6 162.9a0.9 0.9 0 1 0 1.8 0a0.9 0.9 0 1 0 -1.8 0M158.9 162.9a0.9 0.9 0 1 0 1.8 0a0.9 0.9 0 1 0 -1.8 0M161.1 164.5a0.9 0.9 0 1 0 1.8 0a0.9 0.9 0 1 0 -1.8 0M167 162.6a0.9 0.9 0 1 0 1.8 0a0.9 0.9 0 1 0 -1.8 0M169.8 162.6a0.9 0.9 0 1 0 1.8 0a0.9 0.9 0 1 0 -1.8 0M131.6 164.5a0.9 0.9 0 1 0 1.8 0a0.9 0.9 0 1 0 -1.8 0M142 165.1a0.9 0.9 0 1 0 1.8 0a0.9 0.9 0 1 0 -1.8 0M140.9 167.2a0.9 0.9 0 1 0 1.8 0a0.9 0.9 0 1 0 -1.8 0M138.7 168.9a0.9 0.9 0 1 0 1.8 0a0.9 0.9 0 1 0 -1.8 0M130.5 170a0.9 0.9 0 1 0 1.8 0a0.9 0.9 0 1 0 -1.8 0M134.9 171.1a0.9 0.9 0 1 0 1.8 0a0.9 0.9 0 1 0 -1.8 0M129.4 171.6a0.9 0.9 0 1 0 1.8 0a0.9 0.9 0 1 0 -1.8 0M200 142.4a0.9 0.9 0 1 0 1.8 0a0.9 0.9 0 1 0 -1.8 0M200 145.4a0.9 0.9 0 1 0 1.8 0a0.9 0.9 0 1 0 -1.8 0M196.7 147.9a0.9 0.9 0 1 0 1.8 0a0.9 0.9 0 1 0 -1.8 0M208.4 146.2a0.9 0.9 0 1 0 1.8 0a0.9 0.9 0 1 0 -1.8 0M215 150.8a0.9 0.9 0 1 0 1.8 0a0.9 0.9 0 1 0 -1.8 0M64.7 104.2a0.9 0.9 0 1 0 1.8 0a0.9 0.9 0 1 0 -1.8 0M113.4 164.9a0.9 0.9 0 1 0 1.8 0a0.9 0.9 0 1 0 -1.8 0M104.3 152.4a0.9 0.9 0 1 0 1.8 0a0.9 0.9 0 1 0 -1.8 0M101.4 150.2a0.9 0.9 0 1 0 1.8 0a0.9 0.9 0 1 0 -1.8 0M65 106a0.9 0.9 0 1 0 1.8 0a0.9 0.9 0 1 0 -1.8 0M82.8 127.4a0.9 0.9 0 1 0 1.8 0a0.9 0.9 0 1 0 -1.8 0M98.3 146.4a0.9 0.9 0 1 0 1.8 0a0.9 0.9 0 1 0 -1.8 0M100 148.7a0.9 0.9 0 1 0 1.8 0a0.9 0.9 0 1 0 -1.8 0M65.6 104.9a0.9 0.9 0 1 0 1.8 0a0.9 0.9 0 1 0 -1.8 0M73.3 113.6a0.9 0.9 0 1 0 1.8 0a0.9 0.9 0 1 0 -1.8 0" fill="#ff0000"/>
<g class="tl"><text x="27.1" y="138.9" text-anchor="end">0</text><text x="27.1" y="122.26" text-anchor="end">20</text><text x="27.1" y="105.62" text-anchor="end">40</text><text x="27.1" y="88.98" text-anchor="end">60</text><text x="27.1" y="72.34" text-anchor="end">80</text><text x="27.1" y="55.7" text-anchor="end">100</text><text x="113.3" y="183.6" text-anchor="middle">0</text><text x="87.62" y="172.82" text-anchor="middle">2</text><text x="61.95" y="162.04" text-anchor="middle">4</text><text x="36.27" y="151.27" text-anchor="middle">6</text><text x="128.8" y="185.5">0</text><text x="158.55" y="178.08">10</text><text x="188.29" y="170.66">20</text><text x="218.04" y="163.25">30</text><text x="247.79" y="155.83">40</text></g>
<text class="lab" x="19.5" y="185.3">Solar Irradiance(MJ/m<tspan dy="-3" font-size="5">2</tspan><tspan dy="3">)</tspan></text>
<text class="lab" x="170.8" y="187.2">Rainfall(mm)</text>
<text class="lab zl" transform="translate(12.0,95.7) rotate(-90)" text-anchor="middle">Solar Power(kW)</text>
<text class="ttl" x="137.0" y="23.2" text-anchor="middle">Winter</text>
<text class="cap" x="132.2" y="216.7" text-anchor="middle">(<tspan font-weight="bold">d</tspan>)</text>
</g>
</g>
</svg></body></html>
